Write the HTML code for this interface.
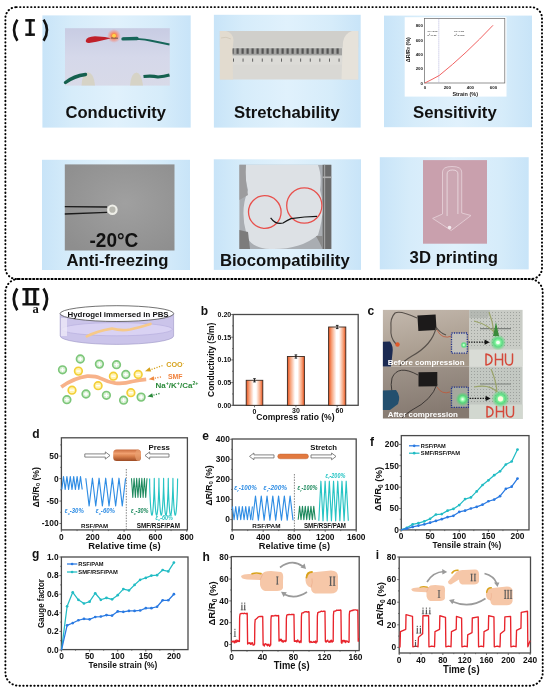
<!DOCTYPE html><html><head><meta charset="utf-8"><style>html,body{margin:0;padding:0;background:#fff;width:550px;height:692px;overflow:hidden}svg{display:block;font-family:"Liberation Sans",sans-serif;will-change:transform}</style></head><body>
<svg width="550" height="692" viewBox="0 0 550 692">
<defs>
<linearGradient id="pb" x1="0" x2="1" y1="0" y2="0">
 <stop offset="0" stop-color="#c8e4f8"/><stop offset="0.2" stop-color="#d6ecfa"/><stop offset="0.5" stop-color="#e0f1fc"/><stop offset="0.8" stop-color="#d6ecfa"/><stop offset="1" stop-color="#c8e4f8"/>
</linearGradient>
<linearGradient id="bar" x1="0" x2="1" y1="0" y2="0">
 <stop offset="0" stop-color="#e8501c"/><stop offset="0.18" stop-color="#f7a27a"/><stop offset="0.45" stop-color="#ffffff"/>
 <stop offset="0.6" stop-color="#ffffff"/><stop offset="0.85" stop-color="#f7a27a"/><stop offset="1" stop-color="#e8501c"/>
</linearGradient>
<linearGradient id="cyl" x1="0" x2="0" y1="0" y2="1">
 <stop offset="0" stop-color="#c86a3c"/><stop offset="0.35" stop-color="#f0a070"/><stop offset="0.6" stop-color="#d8804c"/><stop offset="1" stop-color="#9c4a24"/>
</linearGradient>
<radialGradient id="glowR" cx="50%" cy="50%" r="50%">
 <stop offset="0" stop-color="#fff0a0"/><stop offset="0.3" stop-color="#ff8040"/><stop offset="1" stop-color="#ff8080" stop-opacity="0"/>
</radialGradient>
<radialGradient id="glowG" cx="50%" cy="50%" r="50%">
 <stop offset="0" stop-color="#ffffff"/><stop offset="0.25" stop-color="#9dffb0"/><stop offset="0.55" stop-color="#3ee070" stop-opacity="0.75"/><stop offset="1" stop-color="#40e060" stop-opacity="0"/>
</radialGradient>
<radialGradient id="grayph" cx="55%" cy="45%" r="70%">
 <stop offset="0" stop-color="#a0a0a0"/><stop offset="1" stop-color="#8e8e8e"/>
</radialGradient>
</defs>
<rect x="5.4" y="7.1" width="536.6" height="271.9" rx="11" fill="none" stroke="#000" stroke-width="1.95" stroke-linecap="round" stroke-dasharray="0.4 3.27"/>
<rect x="5.4" y="279" width="537.3" height="406.7" rx="13" fill="none" stroke="#000" stroke-width="1.95" stroke-linecap="round" stroke-dasharray="0.4 3.27"/>
<rect x="42.4" y="15.4" width="148.3" height="112.2" fill="url(#pb)"/>
<rect x="213.9" y="14.8" width="146.8" height="112.8" fill="url(#pb)"/>
<rect x="384.0" y="15.6" width="148.0" height="111.6" fill="url(#pb)"/>
<rect x="42.0" y="159.8" width="148.0" height="110.2" fill="url(#pb)"/>
<rect x="213.8" y="159.3" width="147.2" height="110.6" fill="url(#pb)"/>
<rect x="379.8" y="157.2" width="148.9" height="112.2" fill="url(#pb)"/>
<g>
<linearGradient id="ph1" x1="0" x2="0" y1="0" y2="1"><stop offset="0" stop-color="#c8cce3"/><stop offset="0.5" stop-color="#d5d8ea"/><stop offset="1" stop-color="#d8dae8"/></linearGradient>
<rect x="65.0" y="28.2" width="104.8" height="57.4" fill="url(#ph1)"/>
<circle cx="114" cy="36" r="7" fill="url(#glowR)"/>
<path d="M85.8,40.6 Q86.6,36.6 95,36.3 L105,36.9 L111,38.2 L105,39.8 Q96,42.2 89,42.9 Q85.4,43 85.8,40.6 Z" fill="#c0202a"/>
<path d="M111,38 L118,38.2" stroke="#444" stroke-width="0.8"/>
<path d="M123,38.7 Q140,38.5 150,40.5 T169.5,44.5" stroke="#17665a" stroke-width="1.8" fill="none"/>
<path d="M123,38.9 L137,38.5" stroke="#17665a" stroke-width="3.4" fill="none" stroke-linecap="round"/>
<circle cx="114" cy="35.6" r="1.9" fill="#ffd24a"/>
<path d="M81.5,85.6 Q82,73 88,72.2 Q94,73 95,85.6 Z" fill="#d6d3c6"/>
<path d="M130,85.6 Q131,73 136.5,72.5 Q141.5,73 143,85.6 Z" fill="#d6d3c6"/>
<path d="M65.5,82.5 Q74,76 85.5,74.5" stroke="#14604e" stroke-width="3.4" fill="none" stroke-linecap="round"/>
<path d="M143.5,76.5 Q152,75.5 158,77 Q164,76.5 169.5,75" stroke="#14604e" stroke-width="3.2" fill="none"/>
</g>
<g>
<rect x="219.9" y="31" width="138.3" height="48.5" fill="#d9d8d4"/>
<rect x="219.9" y="31" width="138.3" height="16.5" fill="#d0cfcb"/>
<rect x="230" y="48.2" width="112" height="7.4" fill="#a4a4a2"/>
<rect x="231.5" y="48.4" width="2.2" height="5.4" fill="#555"/>
<rect x="236.5" y="48.4" width="2.2" height="5.4" fill="#555"/>
<rect x="241.5" y="48.4" width="2.2" height="5.4" fill="#555"/>
<rect x="246.5" y="48.4" width="2.2" height="5.4" fill="#555"/>
<rect x="251.5" y="48.4" width="2.2" height="5.4" fill="#555"/>
<rect x="256.5" y="48.4" width="2.2" height="5.4" fill="#555"/>
<rect x="261.5" y="48.4" width="2.2" height="5.4" fill="#555"/>
<rect x="266.5" y="48.4" width="2.2" height="5.4" fill="#555"/>
<rect x="271.5" y="48.4" width="2.2" height="5.4" fill="#555"/>
<rect x="276.5" y="48.4" width="2.2" height="5.4" fill="#555"/>
<rect x="281.5" y="48.4" width="2.2" height="5.4" fill="#555"/>
<rect x="286.5" y="48.4" width="2.2" height="5.4" fill="#555"/>
<rect x="291.5" y="48.4" width="2.2" height="5.4" fill="#555"/>
<rect x="296.5" y="48.4" width="2.2" height="5.4" fill="#555"/>
<rect x="301.5" y="48.4" width="2.2" height="5.4" fill="#555"/>
<rect x="306.5" y="48.4" width="2.2" height="5.4" fill="#555"/>
<rect x="311.5" y="48.4" width="2.2" height="5.4" fill="#555"/>
<rect x="316.5" y="48.4" width="2.2" height="5.4" fill="#555"/>
<rect x="321.5" y="48.4" width="2.2" height="5.4" fill="#555"/>
<rect x="326.5" y="48.4" width="2.2" height="5.4" fill="#555"/>
<rect x="331.5" y="48.4" width="2.2" height="5.4" fill="#555"/>
<rect x="336.5" y="48.4" width="2.2" height="5.4" fill="#555"/>
<rect x="230" y="55.6" width="112" height="9" fill="#dcdbd7"/>
<rect x="233.0" y="58.5" width="0.9" height="3.2" fill="#555"/>
<rect x="242.6" y="58.5" width="0.9" height="3.2" fill="#555"/>
<rect x="252.2" y="58.5" width="0.9" height="3.2" fill="#555"/>
<rect x="261.8" y="58.5" width="0.9" height="3.2" fill="#555"/>
<rect x="271.4" y="58.5" width="0.9" height="3.2" fill="#555"/>
<rect x="281.0" y="58.5" width="0.9" height="3.2" fill="#555"/>
<rect x="290.6" y="58.5" width="0.9" height="3.2" fill="#555"/>
<rect x="300.2" y="58.5" width="0.9" height="3.2" fill="#555"/>
<rect x="309.8" y="58.5" width="0.9" height="3.2" fill="#555"/>
<rect x="319.4" y="58.5" width="0.9" height="3.2" fill="#555"/>
<rect x="329.0" y="58.5" width="0.9" height="3.2" fill="#555"/>
<rect x="338.6" y="58.5" width="0.9" height="3.2" fill="#555"/>
<path d="M219.9,31 L226,31 Q233,33 233.5,40 L232.5,50 L233,79.5 L219.9,79.5 Z" fill="#e2dbcf"/>
<path d="M221,38 Q226,36 231,39" stroke="#cfc6b8" stroke-width="0.8" fill="none"/>
<path d="M358.2,31 L352,31 Q344,34 343,42 L342.5,52 L341.5,79.5 L358.2,79.5 Z" fill="#e6e2da"/>
</g>
<g>
<rect x="404.7" y="17.2" width="101.8" height="79.4" fill="#ffffff"/>
<rect x="424.6" y="18.4" width="80.2" height="64.6" fill="none" stroke="#666" stroke-width="0.7"/>
<line x1="438.8" y1="18.6" x2="438.8" y2="82.8" stroke="#8888cc" stroke-width="0.6" stroke-dasharray="1 1"/>
<path d="M424.8,83 Q432,79.5 439.2,75.5 Q466,54 493,25.3" stroke="#ee5050" stroke-width="0.9" fill="none"/>
<text x="423.0" y="27.2" font-size="4.4" fill="#222" font-weight="bold" text-anchor="end">800</text>
<text x="423.0" y="41.5" font-size="4.4" fill="#222" font-weight="bold" text-anchor="end">600</text>
<text x="423.0" y="55.5" font-size="4.4" fill="#222" font-weight="bold" text-anchor="end">400</text>
<text x="423.0" y="70.0" font-size="4.4" fill="#222" font-weight="bold" text-anchor="end">200</text>
<text x="423.0" y="84.5" font-size="4.4" fill="#222" font-weight="bold" text-anchor="end">0</text>
<text x="425.0" y="89.0" font-size="4.4" fill="#222" font-weight="bold" text-anchor="middle">0</text>
<text x="447.3" y="89.0" font-size="4.4" fill="#222" font-weight="bold" text-anchor="middle">200</text>
<text x="470.4" y="89.0" font-size="4.4" fill="#222" font-weight="bold" text-anchor="middle">400</text>
<text x="493.5" y="89.0" font-size="4.4" fill="#222" font-weight="bold" text-anchor="middle">600</text>
<text x="452.4" y="96.0" font-size="5.8" fill="#222" font-weight="bold" textLength="25.6" lengthAdjust="spacingAndGlyphs">Strain (%)</text>
<text transform="translate(407.6,49.7) rotate(-90)" x="0" y="0" font-size="5.4" font-weight="bold" fill="#222" text-anchor="middle" dominant-baseline="central">&#916;R/R<tspan font-size="3.6" dy="1">0</tspan><tspan dy="-1"> (%)</tspan></text>
<text x="427.5" y="32.0" font-size="2.5" fill="#444" font-weight="bold">GF=3.93</text>
<text x="427.5" y="35.5" font-size="2.5" fill="#444" font-weight="bold">R²=0.99</text>
<text x="454.0" y="32.0" font-size="2.5" fill="#444" font-weight="bold">GF=7.32</text>
<text x="454.0" y="35.5" font-size="2.5" fill="#444" font-weight="bold">R²=0.993</text>
</g>
<g>
<rect x="64.8" y="164.4" width="109.7" height="86.1" fill="url(#grayph)"/>
<path d="M64.8,206.6 L107,207" stroke="#1a1a1a" stroke-width="1.3" fill="none"/>
<path d="M64.8,214 L107,212.4" stroke="#1a1a1a" stroke-width="1.3" fill="none"/>
<circle cx="112.4" cy="209.7" r="4.2" fill="#b8b8b0" stroke="#eeeee8" stroke-width="2.2"/>
</g>
<text x="89.5" y="247.0" font-size="19.8" fill="#111" font-weight="bold" textLength="48.8" lengthAdjust="spacingAndGlyphs">-20°C</text>
<g>
<rect x="239.4" y="164.8" width="91.9" height="84.2" fill="#a9adb2"/>
<rect x="322.6" y="164.8" width="8.7" height="84.2" fill="#6a6a6a"/>
<rect x="324" y="164.8" width="1.2" height="84.2" fill="#a0a0a0"/>
<path d="M245,165 L318,165 Q322,175 320,190 Q326,210 318,235 Q300,250 270,249 Q248,248 246,232 Q240,210 248,190 Q244,175 245,165 Z" fill="#dde1e5"/>
<path d="M239.4,230 L248,232 L250,249 L239.4,249 Z" fill="#7c7c7c"/>
<path d="M239.4,164.8 L246,164.8 Q245,180 248,195 L239.4,200 Z" fill="#9c9c9e"/>
<path d="M316,236 Q320,243 322.6,249 L322.6,236 Z" fill="#8a8a8a"/>
<rect x="322.6" y="176.5" width="8.7" height="1.6" fill="#b0b0b0"/>
<circle cx="264.8" cy="212" r="16.3" fill="none" stroke="#e8504c" stroke-width="1.3"/>
<circle cx="304.3" cy="205.5" r="17.6" fill="none" stroke="#e8504c" stroke-width="1.3"/>
<path d="M270.6,217.8 Q276,225 283,223 Q288,220 291,218.6 Q305,216.4 317,216.3" stroke="#151515" stroke-width="1.2" fill="none"/>
</g>
<g>
<rect x="423" y="160.1" width="64" height="83.6" fill="#c9a0ad"/>
<path d="M442.5,214 L442.5,172 Q442.5,166.5 452,166.5 Q461.7,166.5 461.7,172 L461.7,213 L471,215.5 L451.2,230.5 L432.6,218.4 Z" fill="#cca7b3" stroke="#e4ced6" stroke-width="0.9"/>
<path d="M447.1,216 L447.1,174 Q447.1,170 452.5,170 Q457.9,170 457.9,174 L457.9,214" fill="none" stroke="#eee0e5" stroke-width="0.8"/>
<circle cx="449.5" cy="227.5" r="1.8" fill="#f4eaee"/>
</g>
<g stroke="#111" fill="none" stroke-width="2.6"><path d="M17.4,19.6 Q10.6,30.2 17.4,40.8"/><path d="M43.6,19.6 Q50.4,30.2 43.6,40.8"/></g>
<g fill="#111"><rect x="25.3" y="19.1" width="9.6" height="2.5"/><rect x="28.75" y="19.1" width="2.7" height="16.8"/><rect x="25.3" y="33.4" width="9.6" height="2.5"/></g>
<text x="65.5" y="118.0" font-size="16.7" fill="#111" font-weight="bold" textLength="100.5" lengthAdjust="spacingAndGlyphs">Conductivity</text>
<text x="234.0" y="118.0" font-size="16.7" fill="#111" font-weight="bold" textLength="105.7" lengthAdjust="spacingAndGlyphs">Stretchability</text>
<text x="413.0" y="117.8" font-size="16.7" fill="#111" font-weight="bold" textLength="83.7" lengthAdjust="spacingAndGlyphs">Sensitivity</text>
<text x="66.5" y="266.0" font-size="16.7" fill="#111" font-weight="bold" textLength="102.0" lengthAdjust="spacingAndGlyphs">Anti-freezing</text>
<text x="219.9" y="265.6" font-size="16.7" fill="#111" font-weight="bold" textLength="129.8" lengthAdjust="spacingAndGlyphs">Biocompatibility</text>
<text x="409.6" y="262.9" font-size="16.7" fill="#111" font-weight="bold" textLength="88.3" lengthAdjust="spacingAndGlyphs">3D printing</text>
<g stroke="#111" fill="none" stroke-width="2.7"><path d="M17.3,288.4 Q10.2,299.3 17.3,310.2"/><path d="M43.5,288.4 Q50.6,299.3 43.5,310.2"/></g>
<g fill="#111"><rect x="22.4" y="288.0" width="16.9" height="2.5"/><rect x="25.4" y="288" width="3.1" height="17"/><rect x="33.2" y="288" width="3.1" height="17"/><rect x="22.4" y="303.1" width="17.0" height="2.4"/></g>
<text x="32.6" y="313.3" font-size="12.5" fill="#111" font-weight="bold" font-family="Liberation Serif, serif">a</text>
<g>
<path d="M60.2,313.6 L60.2,336 A56.7,8.4 0 0 0 173.6,336 L173.6,313.6 Z" fill="#cbc4ea"/>
<ellipse cx="116.9" cy="329.2" rx="55.5" ry="6.6" fill="#d9d2f3" stroke="#b3abdb" stroke-width="0.6"/>
<path d="M60.2,313.6 L60.2,336 A56.7,8.4 0 0 0 173.6,336 L173.6,313.6" fill="none" stroke="#9a93c4" stroke-width="0.6"/>
<rect x="61" y="318" width="6" height="18" fill="#ece9f8" opacity="0.8"/>
<path d="M86.8,336.4 Q97,331 111.8,328.6 Q121,331 130,329.5 Q141,327 150.5,323.9" fill="none" stroke="#f6c98a" stroke-width="2.6" stroke-linecap="round"/>
<ellipse cx="116.9" cy="313.6" rx="56.8" ry="7.9" fill="#ffffff" fill-opacity="0.92" stroke="#444" stroke-width="0.75"/>
</g>
<text x="67.5" y="317.2" font-size="7.9" fill="#111" font-weight="bold" textLength="101.1" lengthAdjust="spacingAndGlyphs">Hydrogel immersed in PBS</text>
<path d="M61.2,387 Q74,378 87.3,376.2 Q96,376 100,378.1 Q108,382 115.3,383.2 Q124,384 132,381.5 Q140,380 146.2,379.4" fill="none" stroke="#f7b28a" stroke-width="3.8"/>
<circle cx="80.3" cy="359" r="3.85" fill="#d4eed0" stroke="#7cc679" stroke-width="1.6"/>
<path d="M78.2,359 h4.2 M80.3,356.9 v4.2" stroke="#fff" stroke-width="1.3"/>
<circle cx="99.4" cy="364.1" r="3.85" fill="#d4eed0" stroke="#7cc679" stroke-width="1.6"/>
<path d="M97.30000000000001,364.1 h4.2 M99.4,362.0 v4.2" stroke="#fff" stroke-width="1.3"/>
<circle cx="116.5" cy="364.7" r="3.85" fill="#d4eed0" stroke="#7cc679" stroke-width="1.6"/>
<path d="M114.4,364.7 h4.2 M116.5,362.59999999999997 v4.2" stroke="#fff" stroke-width="1.3"/>
<circle cx="62.5" cy="369.8" r="3.85" fill="#d4eed0" stroke="#7cc679" stroke-width="1.6"/>
<path d="M60.4,369.8 h4.2 M62.5,367.7 v4.2" stroke="#fff" stroke-width="1.3"/>
<circle cx="125.8" cy="374.5" r="3.85" fill="#d4eed0" stroke="#7cc679" stroke-width="1.6"/>
<path d="M123.7,374.5 h4.2 M125.8,372.4 v4.2" stroke="#fff" stroke-width="1.3"/>
<circle cx="66.9" cy="399.7" r="3.85" fill="#d4eed0" stroke="#7cc679" stroke-width="1.6"/>
<path d="M64.80000000000001,399.7 h4.2 M66.9,397.59999999999997 v4.2" stroke="#fff" stroke-width="1.3"/>
<circle cx="86" cy="394" r="3.85" fill="#d4eed0" stroke="#7cc679" stroke-width="1.6"/>
<path d="M83.9,394 h4.2 M86,391.9 v4.2" stroke="#fff" stroke-width="1.3"/>
<circle cx="106.4" cy="395.3" r="3.85" fill="#d4eed0" stroke="#7cc679" stroke-width="1.6"/>
<path d="M104.30000000000001,395.3 h4.2 M106.4,393.2 v4.2" stroke="#fff" stroke-width="1.3"/>
<circle cx="123.6" cy="400.2" r="3.85" fill="#d4eed0" stroke="#7cc679" stroke-width="1.6"/>
<path d="M121.5,400.2 h4.2 M123.6,398.09999999999997 v4.2" stroke="#fff" stroke-width="1.3"/>
<circle cx="141.1" cy="397.1" r="3.85" fill="#d4eed0" stroke="#7cc679" stroke-width="1.6"/>
<path d="M139.0,397.1 h4.2 M141.1,395.0 v4.2" stroke="#fff" stroke-width="1.3"/>
<circle cx="78.4" cy="371.1" r="3.85" fill="#fff3b0" stroke="#f3cf36" stroke-width="1.6"/>
<path d="M76.4,371.1 h4" stroke="#fff" stroke-width="1.3"/>
<circle cx="113.4" cy="376.2" r="3.85" fill="#fff3b0" stroke="#f3cf36" stroke-width="1.6"/>
<path d="M111.4,376.2 h4" stroke="#fff" stroke-width="1.3"/>
<circle cx="98.1" cy="385.7" r="3.85" fill="#fff3b0" stroke="#f3cf36" stroke-width="1.6"/>
<path d="M96.1,385.7 h4" stroke="#fff" stroke-width="1.3"/>
<circle cx="72" cy="390.2" r="3.85" fill="#fff3b0" stroke="#f3cf36" stroke-width="1.6"/>
<path d="M70,390.2 h4" stroke="#fff" stroke-width="1.3"/>
<circle cx="138.2" cy="374.5" r="3.85" fill="#fff3b0" stroke="#f3cf36" stroke-width="1.6"/>
<path d="M136.2,374.5 h4" stroke="#fff" stroke-width="1.3"/>
<circle cx="130.9" cy="392.7" r="3.85" fill="#fff3b0" stroke="#f3cf36" stroke-width="1.6"/>
<path d="M128.9,392.7 h4" stroke="#fff" stroke-width="1.3"/>
<path d="M162.5,365.6 L151.5,369.4" stroke="#d6a21c" stroke-width="1.3" stroke-dasharray="1.2 1.4" fill="none"/>
<path d="M145,371.3 L149.6,367.2 L151.2,371.4 Z" fill="#d6a21c"/>
<path d="M161,377 L154.8,378.2" stroke="#f08a40" stroke-width="1.3" stroke-dasharray="1.2 1.4" fill="none"/>
<path d="M148.6,379.2 L153.8,376.2 L154.4,380.6 Z" fill="#f08a40"/>
<path d="M159.5,393.5 L153.5,395.2" stroke="#2b8a3a" stroke-width="1.3" stroke-dasharray="1.2 1.4" fill="none"/>
<path d="M147.4,396.6 L152.2,393.3 L153.2,397.6 Z" fill="#2b8a3a"/>
<text x="166.3" y="367.4" font-size="7.2" fill="#d6a21c" font-weight="bold">COO<tspan font-size="4.2" dy="-3">-</tspan></text>
<text x="168.0" y="379.0" font-size="7.2" fill="#f0813c" font-weight="bold" textLength="14.5" lengthAdjust="spacingAndGlyphs">SMF</text>
<text x="155.6" y="388.4" font-size="7.3" fill="#2b8a3a" font-weight="bold" textLength="42.8" lengthAdjust="spacingAndGlyphs">Na<tspan font-size="4.8" dy="-3">+</tspan><tspan dy="3">/K</tspan><tspan font-size="4.8" dy="-3">+</tspan><tspan dy="3">/Ca</tspan><tspan font-size="4.8" dy="-3">2+</tspan></text>
<g>
<linearGradient id="cph1" x1="0" y1="0" x2="0.3" y2="1"><stop offset="0" stop-color="#c4b9ae"/><stop offset="1" stop-color="#a49789"/></linearGradient>
<linearGradient id="cph2" x1="0" y1="0" x2="0.3" y2="1"><stop offset="0" stop-color="#a0958b"/><stop offset="1" stop-color="#857970"/></linearGradient>
<rect x="382.9" y="309.9" width="86.6" height="56.6" fill="url(#cph1)"/>
<rect x="382.9" y="366.5" width="86.6" height="52" fill="url(#cph2)"/>
<rect x="469.4" y="309.9" width="53.2" height="56.6" fill="#c9ccc6"/>
<rect x="469.4" y="366.5" width="53.2" height="52.5" fill="#c3c8c2"/>
<rect x="469.4" y="349.5" width="53.2" height="17" fill="#d9dcd6"/>
<rect x="469.4" y="404.5" width="53.2" height="14.5" fill="#d2d8d0"/>
<line x1="471" y1="312.5" x2="521" y2="312.5" stroke="#8c908c" stroke-width="0.7" stroke-dasharray="1 2"/>
<line x1="471" y1="315.5" x2="521" y2="315.5" stroke="#8c908c" stroke-width="0.7" stroke-dasharray="1 2"/>
<line x1="471" y1="318.5" x2="521" y2="318.5" stroke="#8c908c" stroke-width="0.7" stroke-dasharray="1 2"/>
<line x1="471" y1="321.5" x2="521" y2="321.5" stroke="#8c908c" stroke-width="0.7" stroke-dasharray="1 2"/>
<line x1="471" y1="324.5" x2="521" y2="324.5" stroke="#8c908c" stroke-width="0.7" stroke-dasharray="1 2"/>
<line x1="471" y1="327.5" x2="521" y2="327.5" stroke="#8c908c" stroke-width="0.7" stroke-dasharray="1 2"/>
<line x1="471" y1="330.5" x2="521" y2="330.5" stroke="#8c908c" stroke-width="0.7" stroke-dasharray="1 2"/>
<line x1="471" y1="333.5" x2="521" y2="333.5" stroke="#8c908c" stroke-width="0.7" stroke-dasharray="1 2"/>
<line x1="471" y1="336.5" x2="521" y2="336.5" stroke="#8c908c" stroke-width="0.7" stroke-dasharray="1 2"/>
<line x1="471" y1="339.5" x2="521" y2="339.5" stroke="#8c908c" stroke-width="0.7" stroke-dasharray="1 2"/>
<line x1="471" y1="342.5" x2="521" y2="342.5" stroke="#8c908c" stroke-width="0.7" stroke-dasharray="1 2"/>
<line x1="471" y1="345.5" x2="521" y2="345.5" stroke="#8c908c" stroke-width="0.7" stroke-dasharray="1 2"/>
<line x1="471" y1="368.5" x2="521" y2="368.5" stroke="#8c908c" stroke-width="0.7" stroke-dasharray="1 2"/>
<line x1="471" y1="371.5" x2="521" y2="371.5" stroke="#8c908c" stroke-width="0.7" stroke-dasharray="1 2"/>
<line x1="471" y1="374.5" x2="521" y2="374.5" stroke="#8c908c" stroke-width="0.7" stroke-dasharray="1 2"/>
<line x1="471" y1="377.5" x2="521" y2="377.5" stroke="#8c908c" stroke-width="0.7" stroke-dasharray="1 2"/>
<line x1="471" y1="380.5" x2="521" y2="380.5" stroke="#8c908c" stroke-width="0.7" stroke-dasharray="1 2"/>
<line x1="471" y1="383.5" x2="521" y2="383.5" stroke="#8c908c" stroke-width="0.7" stroke-dasharray="1 2"/>
<line x1="471" y1="386.5" x2="521" y2="386.5" stroke="#8c908c" stroke-width="0.7" stroke-dasharray="1 2"/>
<line x1="471" y1="389.5" x2="521" y2="389.5" stroke="#8c908c" stroke-width="0.7" stroke-dasharray="1 2"/>
<line x1="471" y1="392.5" x2="521" y2="392.5" stroke="#8c908c" stroke-width="0.7" stroke-dasharray="1 2"/>
<line x1="471" y1="395.5" x2="521" y2="395.5" stroke="#8c908c" stroke-width="0.7" stroke-dasharray="1 2"/>
<line x1="471" y1="398.5" x2="521" y2="398.5" stroke="#8c908c" stroke-width="0.7" stroke-dasharray="1 2"/>
<line x1="471" y1="401.5" x2="521" y2="401.5" stroke="#8c908c" stroke-width="0.7" stroke-dasharray="1 2"/>
<path d="M480,328.6 L511,328.6 M480,384 L511,384" stroke="#7c807c" stroke-width="1.2"/>
<path d="M469.4,310 L490,310 L488,318 L469.4,318 Z" fill="#a9aca6" opacity="0.6"/>
<path d="M417.4,315.6 L435.6,314.6 L436.6,329.9 L418.4,330.9 Z" fill="#1c1a1a"/>
<path d="M418.5,372.3 L437.3,372 L437.3,386.2 L418.5,386.5 Z" fill="#1c1a1a"/>
<path d="M417,318 Q400,310 395,313 Q390,318 391,328 Q390,338 396,344 M436,327 Q440,333 446,335 M436,328 Q432,345 412,356 Q402,362 400,366" fill="none" stroke="#57504a" stroke-width="1.1"/>
<path d="M418,375 Q398,364 392,378 Q389,392 397,398 M437,384 Q432,400 412,410 Q404,415 402,418" fill="none" stroke="#2a2624" stroke-width="0.8"/>
<path d="M437,330 Q442,340 452,336 M437,387 Q442,395 450,392" fill="none" stroke="#c05838" stroke-width="0.8"/>
<path d="M382.9,341.8 L390,341.5 Q393.5,346 392.5,353 L391,366.4 L382.9,366.4 Z" fill="#1b2a52"/>
<path d="M382.9,390.5 L396,390 Q401,396 398,404 L390,410 L382.9,410 Z" fill="#234f6e"/>
<circle cx="397.5" cy="344.5" r="2.2" fill="#e05a2a"/>
<rect x="451.5" y="333" width="15.8" height="20.2" fill="#c4c3bc" stroke="#1d2f8c" stroke-width="1.3" stroke-dasharray="1.2 1.2"/>
<rect x="451.5" y="387.2" width="16.8" height="20.2" fill="#a5a89e" stroke="#1d2f8c" stroke-width="1.3" stroke-dasharray="1.2 1.2"/>
<circle cx="463.8" cy="345" r="3.5" fill="url(#glowG)"/>
<circle cx="462.6" cy="399.2" r="7" fill="url(#glowG)"/>
<circle cx="498" cy="342.5" r="8" fill="url(#glowG)"/>
<circle cx="500.5" cy="398.8" r="9" fill="url(#glowG)"/>
<circle cx="500.5" cy="398.8" r="2.6" fill="#fffbe0"/>
<circle cx="498" cy="342.5" r="1.8" fill="#f4fff4"/>
<path d="M468.6,342.2 L485,342.2" stroke="#111" stroke-width="1.3" stroke-dasharray="1.3 1.3"/>
<path d="M489.6,342.2 L484.6,339.6 L484.6,344.8 Z" fill="#111"/>
<path d="M469.6,398.4 L486,398.4" stroke="#111" stroke-width="1.3" stroke-dasharray="1.3 1.3"/>
<path d="M490.6,398.4 L485.6,395.8 L485.6,401 Z" fill="#111"/>
<path d="M474,321 Q490,325 496,335 M489,312 Q493,322 494,333" fill="none" stroke="#9aa46a" stroke-width="1.2"/>
<path d="M493,336 L496,322 L499,336 Z" fill="#3a8a3a"/>
<path d="M474,387 Q490,384 497,392 M491,369 Q496,380 497,392" fill="none" stroke="#9aa46a" stroke-width="1.2"/>
<g fill="none" stroke="#d4483a" stroke-width="1.5" stroke-linecap="round"><path d="M486,354 L486,365 M486,354 Q492,355 492,359.5 Q492,364 486,365"/><path d="M495.5,354 L495.5,365 M502.5,354 L502.5,365 M495.5,359.5 L502.5,359.5"/><path d="M505.5,354 L505.5,361 Q506,365 509,365 Q512.5,365 512.5,361 L512.5,354"/></g>
<g fill="none" stroke="#d4483a" stroke-width="1.5" stroke-linecap="round"><path d="M487,406.5 L487,417 M487,406.5 Q493,407.5 493,412 Q493,416.5 487,417"/><path d="M496.5,406.5 L496.5,417 M503.5,406.5 L503.5,417 M496.5,411.5 L503.5,411.5"/><path d="M506.5,406.5 L506.5,413 Q507,417 510,417 Q513.5,417 513.5,413 L513.5,406.5"/></g>
</g>
<text x="387.7" y="365.3" font-size="7.95" fill="#ffffff" font-weight="bold" textLength="76.9" lengthAdjust="spacingAndGlyphs">Before compression</text>
<text x="387.7" y="416.8" font-size="7.95" fill="#ffffff" font-weight="bold" textLength="70.3" lengthAdjust="spacingAndGlyphs">After compression</text>
<text x="200.7" y="315.2" font-size="12" fill="#111" font-weight="bold">b</text>
<text x="367.4" y="315.2" font-size="12" fill="#111" font-weight="bold">c</text>
<rect x="233.2" y="314.5" width="125.00" height="90.80" fill="none" stroke="#4a4a4a" stroke-width="1.3"/>
<line x1="231.2" y1="314.50" x2="233.2" y2="314.50" stroke="#4a4a4a" stroke-width="0.8"/>
<line x1="231.2" y1="337.20" x2="233.2" y2="337.20" stroke="#4a4a4a" stroke-width="0.8"/>
<line x1="231.2" y1="359.90" x2="233.2" y2="359.90" stroke="#4a4a4a" stroke-width="0.8"/>
<line x1="231.2" y1="382.60" x2="233.2" y2="382.60" stroke="#4a4a4a" stroke-width="0.8"/>
<line x1="231.2" y1="405.30" x2="233.2" y2="405.30" stroke="#4a4a4a" stroke-width="0.8"/>
<line x1="232.0" y1="325.85" x2="233.2" y2="325.85" stroke="#4a4a4a" stroke-width="0.7"/>
<line x1="232.0" y1="348.55" x2="233.2" y2="348.55" stroke="#4a4a4a" stroke-width="0.7"/>
<line x1="232.0" y1="371.25" x2="233.2" y2="371.25" stroke="#4a4a4a" stroke-width="0.7"/>
<line x1="232.0" y1="393.95" x2="233.2" y2="393.95" stroke="#4a4a4a" stroke-width="0.7"/>
<text x="231.2" y="317.0" font-size="7.0" fill="#111" font-weight="bold" text-anchor="end">0.20</text>
<text x="231.2" y="339.7" font-size="7.0" fill="#111" font-weight="bold" text-anchor="end">0.15</text>
<text x="231.2" y="362.4" font-size="7.0" fill="#111" font-weight="bold" text-anchor="end">0.10</text>
<text x="231.2" y="385.1" font-size="7.0" fill="#111" font-weight="bold" text-anchor="end">0.05</text>
<text x="231.2" y="407.8" font-size="7.0" fill="#111" font-weight="bold" text-anchor="end">0.00</text>
<rect x="246.2" y="380.3" width="16.6" height="25.0" fill="url(#bar)" stroke="#3a2a22" stroke-width="0.9"/>
<path d="M254.5,378.7 v3.2 M253.2,378.7 h2.6 M253.2,381.90000000000003 h2.6" stroke="#111" stroke-width="0.9"/>
<rect x="287.4" y="356.5" width="17.0" height="48.8" fill="url(#bar)" stroke="#3a2a22" stroke-width="0.9"/>
<path d="M295.9,354.9 v3.2 M294.59999999999997,354.9 h2.6 M294.59999999999997,358.1 h2.6" stroke="#111" stroke-width="0.9"/>
<rect x="328.6" y="327.0" width="17.2" height="78.3" fill="url(#bar)" stroke="#3a2a22" stroke-width="0.9"/>
<path d="M337.20000000000005,325.4 v3.2 M335.90000000000003,325.4 h2.6 M335.90000000000003,328.6 h2.6" stroke="#111" stroke-width="0.9"/>
<line x1="254.50" y1="405.3" x2="254.50" y2="407.3" stroke="#4a4a4a" stroke-width="0.8"/>
<line x1="295.90" y1="405.3" x2="295.90" y2="407.3" stroke="#4a4a4a" stroke-width="0.8"/>
<line x1="337.20" y1="405.3" x2="337.20" y2="407.3" stroke="#4a4a4a" stroke-width="0.8"/>
<text x="254.5" y="414.2" font-size="7.0" fill="#111" font-weight="bold" text-anchor="middle">0</text>
<text x="295.9" y="413.0" font-size="7.0" fill="#111" font-weight="bold" text-anchor="middle">30</text>
<text x="339.5" y="412.5" font-size="7.0" fill="#111" font-weight="bold" text-anchor="middle">60</text>
<text x="256.3" y="420.2" font-size="8.6" fill="#111" font-weight="bold" textLength="78.2" lengthAdjust="spacingAndGlyphs">Compress ratio (%)</text>
<text transform="translate(210.8,359.8) rotate(-90)" x="0" y="0" font-size="8.5" font-weight="bold" fill="#111" text-anchor="middle" dominant-baseline="central" textLength="74.3" lengthAdjust="spacingAndGlyphs">Conductivity (S/m)</text>
<text x="32.2" y="438.3" font-size="12" fill="#111" font-weight="bold">d</text>
<rect x="61.4" y="437.8" width="126.00" height="92.10" fill="none" stroke="#4a4a4a" stroke-width="1.3"/>
<line x1="59.4" y1="456.14" x2="61.4" y2="456.14" stroke="#4a4a4a" stroke-width="0.8"/>
<line x1="59.4" y1="478.60" x2="61.4" y2="478.60" stroke="#4a4a4a" stroke-width="0.8"/>
<line x1="59.4" y1="501.06" x2="61.4" y2="501.06" stroke="#4a4a4a" stroke-width="0.8"/>
<line x1="59.4" y1="523.53" x2="61.4" y2="523.53" stroke="#4a4a4a" stroke-width="0.8"/>
<line x1="60.199999999999996" y1="444.90" x2="61.4" y2="444.90" stroke="#4a4a4a" stroke-width="0.7"/>
<line x1="60.199999999999996" y1="467.37" x2="61.4" y2="467.37" stroke="#4a4a4a" stroke-width="0.7"/>
<line x1="60.199999999999996" y1="489.83" x2="61.4" y2="489.83" stroke="#4a4a4a" stroke-width="0.7"/>
<line x1="60.199999999999996" y1="512.30" x2="61.4" y2="512.30" stroke="#4a4a4a" stroke-width="0.7"/>
<line x1="60.199999999999996" y1="534.76" x2="61.4" y2="534.76" stroke="#4a4a4a" stroke-width="0.7"/>
<text x="58.6" y="459.0" font-size="8.4" fill="#111" font-weight="bold" text-anchor="end">50</text>
<text x="58.6" y="481.5" font-size="8.4" fill="#111" font-weight="bold" text-anchor="end">0</text>
<text x="58.6" y="504.0" font-size="8.4" fill="#111" font-weight="bold" text-anchor="end">-50</text>
<text x="58.6" y="526.4" font-size="8.4" fill="#111" font-weight="bold" text-anchor="end">-100</text>
<line x1="61.40" y1="529.9" x2="61.40" y2="531.9" stroke="#4a4a4a" stroke-width="0.8"/>
<line x1="92.74" y1="529.9" x2="92.74" y2="531.9" stroke="#4a4a4a" stroke-width="0.8"/>
<line x1="124.08" y1="529.9" x2="124.08" y2="531.9" stroke="#4a4a4a" stroke-width="0.8"/>
<line x1="155.42" y1="529.9" x2="155.42" y2="531.9" stroke="#4a4a4a" stroke-width="0.8"/>
<line x1="186.76" y1="529.9" x2="186.76" y2="531.9" stroke="#4a4a4a" stroke-width="0.8"/>
<line x1="77.07" y1="529.9" x2="77.07" y2="531.1" stroke="#4a4a4a" stroke-width="0.7"/>
<line x1="108.41" y1="529.9" x2="108.41" y2="531.1" stroke="#4a4a4a" stroke-width="0.7"/>
<line x1="139.75" y1="529.9" x2="139.75" y2="531.1" stroke="#4a4a4a" stroke-width="0.7"/>
<line x1="171.09" y1="529.9" x2="171.09" y2="531.1" stroke="#4a4a4a" stroke-width="0.7"/>
<text x="61.4" y="539.6" font-size="8.4" fill="#111" font-weight="bold" text-anchor="middle">0</text>
<text x="92.7" y="539.6" font-size="8.4" fill="#111" font-weight="bold" text-anchor="middle">200</text>
<text x="124.1" y="539.6" font-size="8.4" fill="#111" font-weight="bold" text-anchor="middle">400</text>
<text x="155.4" y="539.6" font-size="8.4" fill="#111" font-weight="bold" text-anchor="middle">600</text>
<text x="186.8" y="539.6" font-size="8.4" fill="#111" font-weight="bold" text-anchor="middle">800</text>
<text x="88.3" y="549.0" font-size="9.9" fill="#111" font-weight="bold" textLength="72.4" lengthAdjust="spacingAndGlyphs">Relative time (s)</text>
<text transform="translate(36.2,487.2) rotate(-90)" x="0" y="0" font-size="8.6" font-weight="bold" fill="#111" text-anchor="middle" dominant-baseline="central">&#916;R/R<tspan font-size="6" dy="2">0</tspan><tspan dy="-2"> (%)</tspan></text>
<polyline points="61.80,489.50 63.50,476.50 65.20,489.50 66.90,476.50 68.60,489.50 70.30,476.50 72.00,489.50 73.70,476.50 75.40,489.50 77.10,476.50 78.80,489.50 80.50,476.50 82.20,489.50" fill="none" stroke="#2f8de4" stroke-width="1.15" stroke-linejoin="round"/>
<polyline points="85.80,478.20 89.12,506.00 92.43,478.20 95.75,506.00 99.07,478.20 102.38,506.00 105.70,478.20 109.02,506.00 112.33,478.20 115.65,506.00 118.97,478.20 122.28,506.00 125.60,478.20" fill="none" stroke="#2f8de4" stroke-width="1.15" stroke-linejoin="round"/>
<polyline points="131.50,478.20 132.79,497.50 134.08,478.20 135.38,497.50 136.67,478.20 137.96,497.50 139.25,478.20 140.54,497.50 141.83,478.20 143.12,497.50 144.42,478.20 145.71,497.50 147.00,478.20" fill="none" stroke="#1e8a5e" stroke-width="1.05" stroke-linejoin="round"/>
<polyline points="149.60,478.40 149.72,486.39 149.83,490.49 149.95,493.77 150.07,496.59 150.18,499.08 150.30,501.31 150.42,503.33 150.53,505.15 150.65,506.80 150.77,508.29 150.88,509.62 151.00,510.81 151.12,511.84 151.23,512.74 151.35,513.49 151.47,514.11 151.58,514.59 151.70,514.93 151.82,515.13 151.93,515.20 152.05,515.13 152.17,514.93 152.28,514.59 152.40,514.11 152.52,513.49 152.63,512.74 152.75,511.84 152.87,510.81 152.98,509.62 153.10,508.29 153.22,506.80 153.33,505.15 153.45,503.33 153.57,501.31 153.68,499.08 153.80,496.59 153.92,493.77 154.03,490.49 154.15,486.39 154.27,478.40 154.38,486.39 154.50,490.49 154.62,493.77 154.73,496.59 154.85,499.08 154.97,501.31 155.08,503.33 155.20,505.15 155.32,506.80 155.43,508.29 155.55,509.62 155.67,510.81 155.78,511.84 155.90,512.74 156.02,513.49 156.13,514.11 156.25,514.59 156.37,514.93 156.48,515.13 156.60,515.20 156.72,515.13 156.83,514.93 156.95,514.59 157.07,514.11 157.18,513.49 157.30,512.74 157.42,511.84 157.53,510.81 157.65,509.62 157.77,508.29 157.88,506.80 158.00,505.15 158.12,503.33 158.23,501.31 158.35,499.08 158.47,496.59 158.58,493.77 158.70,490.49 158.82,486.39 158.93,478.40 159.05,486.39 159.17,490.49 159.28,493.77 159.40,496.59 159.52,499.08 159.63,501.31 159.75,503.33 159.87,505.15 159.98,506.80 160.10,508.29 160.22,509.62 160.33,510.81 160.45,511.84 160.57,512.74 160.68,513.49 160.80,514.11 160.92,514.59 161.03,514.93 161.15,515.13 161.27,515.20 161.38,515.13 161.50,514.93 161.62,514.59 161.73,514.11 161.85,513.49 161.97,512.74 162.08,511.84 162.20,510.81 162.32,509.62 162.43,508.29 162.55,506.80 162.67,505.15 162.78,503.33 162.90,501.31 163.02,499.08 163.13,496.59 163.25,493.77 163.37,490.49 163.48,486.39 163.60,478.40 163.72,486.39 163.83,490.49 163.95,493.77 164.07,496.59 164.18,499.08 164.30,501.31 164.42,503.33 164.53,505.15 164.65,506.80 164.77,508.29 164.88,509.62 165.00,510.81 165.12,511.84 165.23,512.74 165.35,513.49 165.47,514.11 165.58,514.59 165.70,514.93 165.82,515.13 165.93,515.20 166.05,515.13 166.17,514.93 166.28,514.59 166.40,514.11 166.52,513.49 166.63,512.74 166.75,511.84 166.87,510.81 166.98,509.62 167.10,508.29 167.22,506.80 167.33,505.15 167.45,503.33 167.57,501.31 167.68,499.08 167.80,496.59 167.92,493.77 168.03,490.49 168.15,486.39 168.27,478.40 168.38,486.39 168.50,490.49 168.62,493.77 168.73,496.59 168.85,499.08 168.97,501.31 169.08,503.33 169.20,505.15 169.32,506.80 169.43,508.29 169.55,509.62 169.67,510.81 169.78,511.84 169.90,512.74 170.02,513.49 170.13,514.11 170.25,514.59 170.37,514.93 170.48,515.13 170.60,515.20 170.72,515.13 170.83,514.93 170.95,514.59 171.07,514.11 171.18,513.49 171.30,512.74 171.42,511.84 171.53,510.81 171.65,509.62 171.77,508.29 171.88,506.80 172.00,505.15 172.12,503.33 172.23,501.31 172.35,499.08 172.47,496.59 172.58,493.77 172.70,490.49 172.82,486.39 172.93,478.40 173.05,486.39 173.17,490.49 173.28,493.77 173.40,496.59 173.52,499.08 173.63,501.31 173.75,503.33 173.87,505.15 173.98,506.80 174.10,508.29 174.22,509.62 174.33,510.81 174.45,511.84 174.57,512.74 174.68,513.49 174.80,514.11 174.92,514.59 175.03,514.93 175.15,515.13 175.27,515.20 175.38,515.13 175.50,514.93 175.62,514.59 175.73,514.11 175.85,513.49 175.97,512.74 176.08,511.84 176.20,510.81 176.32,509.62 176.43,508.29 176.55,506.80 176.67,505.15 176.78,503.33 176.90,501.31 177.02,499.08 177.13,496.59 177.25,493.77 177.37,490.49 177.48,486.39 177.60,478.40" fill="none" stroke="#27c4c4" stroke-width="1.15" stroke-linejoin="round"/>
<line x1="126.3" y1="469" x2="126.3" y2="529.9" stroke="#666" stroke-width="0.8" stroke-dasharray="1.5 1.2"/>
<text x="64.8" y="513.4" font-size="6.9" fill="#2f8de4" font-weight="bold" font-style="italic" textLength="19.0" lengthAdjust="spacingAndGlyphs">&#949;<tspan font-size="4.4" dy="1.2">c</tspan><tspan dy="-1.2">-30%</tspan></text>
<text x="95.8" y="513.4" font-size="6.9" fill="#2f8de4" font-weight="bold" font-style="italic" textLength="19.2" lengthAdjust="spacingAndGlyphs">&#949;<tspan font-size="4.4" dy="1.2">c</tspan><tspan dy="-1.2">-60%</tspan></text>
<text x="131.0" y="513.4" font-size="6.9" fill="#1e8a5e" font-weight="bold" font-style="italic" textLength="17.5" lengthAdjust="spacingAndGlyphs">&#949;<tspan font-size="4.4" dy="1.2">c</tspan><tspan dy="-1.2">-30%</tspan></text>
<text x="155.6" y="520.2" font-size="6.9" fill="#27c4c4" font-weight="bold" font-style="italic" textLength="17.2" lengthAdjust="spacingAndGlyphs">&#949;<tspan font-size="4.4" dy="1.2">c</tspan><tspan dy="-1.2">-60%</tspan></text>
<text x="81.0" y="528.0" font-size="6.1" fill="#111" font-weight="bold" textLength="27.0" lengthAdjust="spacingAndGlyphs">RSF/PAM</text>
<text x="136.7" y="528.4" font-size="6.35" fill="#111" font-weight="bold" textLength="43.3" lengthAdjust="spacingAndGlyphs">SMF/RSF/PAM</text>
<path d="M84.8,453.916 L105.32,453.916 L105.32,451.9 L110,455.5 L105.32,459.1 L105.32,457.084 L84.8,457.084 Z" fill="#fff" stroke="#666" stroke-width="0.8" stroke-linejoin="miter"/>
<path d="M169,453.916 L149.68,453.916 L149.68,451.9 L145,455.5 L149.68,459.1 L149.68,457.084 L169,457.084 Z" fill="#fff" stroke="#666" stroke-width="0.8" stroke-linejoin="miter"/>
<rect x="113.2" y="449.4" width="27.8" height="11.6" rx="3.5" fill="url(#cyl)"/>
<ellipse cx="138" cy="455.2" rx="3" ry="5.8" fill="#e8a070" opacity="0.7"/>
<text x="148.5" y="449.8" font-size="7.9" fill="#111" font-weight="bold" textLength="21.5" lengthAdjust="spacingAndGlyphs">Press</text>
<text x="202.2" y="440.4" font-size="12" fill="#111" font-weight="bold">e</text>
<rect x="232.2" y="439.0" width="124.00" height="90.90" fill="none" stroke="#4a4a4a" stroke-width="1.3"/>
<line x1="230.2" y1="519.60" x2="232.2" y2="519.60" stroke="#4a4a4a" stroke-width="0.8"/>
<line x1="230.2" y1="499.52" x2="232.2" y2="499.52" stroke="#4a4a4a" stroke-width="0.8"/>
<line x1="230.2" y1="479.44" x2="232.2" y2="479.44" stroke="#4a4a4a" stroke-width="0.8"/>
<line x1="230.2" y1="459.36" x2="232.2" y2="459.36" stroke="#4a4a4a" stroke-width="0.8"/>
<line x1="230.2" y1="439.28" x2="232.2" y2="439.28" stroke="#4a4a4a" stroke-width="0.8"/>
<line x1="231.0" y1="509.56" x2="232.2" y2="509.56" stroke="#4a4a4a" stroke-width="0.7"/>
<line x1="231.0" y1="489.48" x2="232.2" y2="489.48" stroke="#4a4a4a" stroke-width="0.7"/>
<line x1="231.0" y1="469.40" x2="232.2" y2="469.40" stroke="#4a4a4a" stroke-width="0.7"/>
<line x1="231.0" y1="449.32" x2="232.2" y2="449.32" stroke="#4a4a4a" stroke-width="0.7"/>
<line x1="231.0" y1="529.64" x2="232.2" y2="529.64" stroke="#4a4a4a" stroke-width="0.7"/>
<text x="229.8" y="522.3" font-size="8.4" fill="#111" font-weight="bold" text-anchor="end">0</text>
<text x="229.8" y="502.2" font-size="8.4" fill="#111" font-weight="bold" text-anchor="end">100</text>
<text x="229.8" y="482.1" font-size="8.4" fill="#111" font-weight="bold" text-anchor="end">200</text>
<text x="229.8" y="462.1" font-size="8.4" fill="#111" font-weight="bold" text-anchor="end">300</text>
<text x="229.8" y="442.0" font-size="8.4" fill="#111" font-weight="bold" text-anchor="end">400</text>
<line x1="232.20" y1="529.9" x2="232.20" y2="531.9" stroke="#4a4a4a" stroke-width="0.8"/>
<line x1="263.20" y1="529.9" x2="263.20" y2="531.9" stroke="#4a4a4a" stroke-width="0.8"/>
<line x1="294.20" y1="529.9" x2="294.20" y2="531.9" stroke="#4a4a4a" stroke-width="0.8"/>
<line x1="325.20" y1="529.9" x2="325.20" y2="531.9" stroke="#4a4a4a" stroke-width="0.8"/>
<line x1="356.20" y1="529.9" x2="356.20" y2="531.9" stroke="#4a4a4a" stroke-width="0.8"/>
<line x1="247.70" y1="529.9" x2="247.70" y2="531.1" stroke="#4a4a4a" stroke-width="0.7"/>
<line x1="278.70" y1="529.9" x2="278.70" y2="531.1" stroke="#4a4a4a" stroke-width="0.7"/>
<line x1="309.70" y1="529.9" x2="309.70" y2="531.1" stroke="#4a4a4a" stroke-width="0.7"/>
<line x1="340.70" y1="529.9" x2="340.70" y2="531.1" stroke="#4a4a4a" stroke-width="0.7"/>
<text x="232.2" y="539.6" font-size="8.4" fill="#111" font-weight="bold" text-anchor="middle">0</text>
<text x="263.2" y="539.6" font-size="8.4" fill="#111" font-weight="bold" text-anchor="middle">400</text>
<text x="294.2" y="539.6" font-size="8.4" fill="#111" font-weight="bold" text-anchor="middle">800</text>
<text x="325.2" y="539.6" font-size="8.4" fill="#111" font-weight="bold" text-anchor="middle">1200</text>
<text x="356.2" y="539.6" font-size="8.4" fill="#111" font-weight="bold" text-anchor="middle">1600</text>
<text x="258.8" y="549.0" font-size="9.9" fill="#111" font-weight="bold" textLength="71.2" lengthAdjust="spacingAndGlyphs">Relative time (s)</text>
<text transform="translate(209.4,485.4) rotate(-90)" x="0" y="0" font-size="8.6" font-weight="bold" fill="#111" text-anchor="middle" dominant-baseline="central">&#916;R/R<tspan font-size="6" dy="2">0</tspan><tspan dy="-2"> (%)</tspan></text>
<polyline points="232.40,506.50 234.07,519.80 235.73,506.50 237.40,519.80 239.07,506.50 240.73,519.80 242.40,506.50 244.07,519.80 245.73,506.50 247.40,519.80 249.07,506.50 250.73,519.80 252.40,506.50" fill="none" stroke="#2f8de4" stroke-width="1.1" stroke-linejoin="round"/>
<polyline points="252.60,520.20 255.49,496.00 258.37,520.20 261.26,496.00 264.14,520.20 267.03,496.00 269.91,520.20 272.80,496.00 275.69,520.20 278.57,496.00 281.46,520.20 284.34,496.00 287.23,520.20 290.11,496.00 293.00,520.20" fill="none" stroke="#2f8de4" stroke-width="1.15" stroke-linejoin="round"/>
<polyline points="298.20,519.80 299.62,506.30 301.03,519.80 302.45,506.30 303.87,519.80 305.28,506.30 306.70,519.80 308.12,506.30 309.53,519.80 310.95,506.30 312.37,519.80 313.78,506.30 315.20,519.80" fill="none" stroke="#1e8a5e" stroke-width="1.1" stroke-linejoin="round"/>
<polyline points="318.80,520.80 320.91,481.20 323.01,520.80 325.12,481.20 327.23,520.80 329.34,481.20 331.44,520.80 333.55,481.20 335.66,520.80 337.76,481.20 339.87,520.80 341.98,481.20 344.09,520.80 346.19,481.20 348.30,520.80" fill="none" stroke="#27c4c4" stroke-width="1.15" stroke-linejoin="round"/>
<line x1="294.4" y1="474" x2="294.4" y2="529.9" stroke="#666" stroke-width="0.8" stroke-dasharray="1.5 1.2"/>
<text x="234.2" y="490.3" font-size="6.9" fill="#2f8de4" font-weight="bold" font-style="italic" textLength="22.6" lengthAdjust="spacingAndGlyphs">&#949;<tspan font-size="4.4" dy="1.2">r</tspan><tspan dy="-1.2">-100%</tspan></text>
<text x="263.6" y="490.3" font-size="6.9" fill="#2f8de4" font-weight="bold" font-style="italic" textLength="23.5" lengthAdjust="spacingAndGlyphs">&#949;<tspan font-size="4.4" dy="1.2">r</tspan><tspan dy="-1.2">-200%</tspan></text>
<text x="297.5" y="490.3" font-size="6.9" fill="#1e8a5e" font-weight="bold" font-style="italic" textLength="20.0" lengthAdjust="spacingAndGlyphs">&#949;<tspan font-size="4.4" dy="1.2">r</tspan><tspan dy="-1.2">-100%</tspan></text>
<text x="325.5" y="477.8" font-size="6.9" fill="#27c4c4" font-weight="bold" font-style="italic" textLength="19.8" lengthAdjust="spacingAndGlyphs">&#949;<tspan font-size="4.4" dy="1.2">r</tspan><tspan dy="-1.2">-200%</tspan></text>
<text x="252.3" y="528.0" font-size="6.1" fill="#111" font-weight="bold" textLength="28.2" lengthAdjust="spacingAndGlyphs">RSF/PAM</text>
<text x="304.0" y="528.4" font-size="6.35" fill="#111" font-weight="bold" textLength="42.0" lengthAdjust="spacingAndGlyphs">SMF/RSF/PAM</text>
<path d="M274,454.904 L253.92,454.904 L253.92,453.0 L249.5,456.4 L253.92,459.79999999999995 L253.92,457.89599999999996 L274,457.89599999999996 Z" fill="#fff" stroke="#666" stroke-width="0.8" stroke-linejoin="miter"/>
<path d="M311,454.904 L331.58,454.904 L331.58,453.0 L336,456.4 L331.58,459.79999999999995 L331.58,457.89599999999996 L311,457.89599999999996 Z" fill="#fff" stroke="#666" stroke-width="0.8" stroke-linejoin="miter"/>
<rect x="277.7" y="454" width="30.8" height="4.8" rx="2.4" fill="#e2793f" stroke="#b5582a" stroke-width="0.4"/>
<text x="310.3" y="450.4" font-size="7.75" fill="#111" font-weight="bold" textLength="26.7" lengthAdjust="spacingAndGlyphs">Stretch</text>
<text x="370.0" y="445.7" font-size="12" fill="#111" font-weight="bold">f</text>
<rect x="401.3" y="435.6" width="127.70" height="94.30" fill="none" stroke="#4a4a4a" stroke-width="1.3"/>
<line x1="399.0" y1="529.90" x2="401.0" y2="529.90" stroke="#4a4a4a" stroke-width="0.8"/>
<line x1="399.0" y1="508.52" x2="401.0" y2="508.52" stroke="#4a4a4a" stroke-width="0.8"/>
<line x1="399.0" y1="487.15" x2="401.0" y2="487.15" stroke="#4a4a4a" stroke-width="0.8"/>
<line x1="399.0" y1="465.77" x2="401.0" y2="465.77" stroke="#4a4a4a" stroke-width="0.8"/>
<line x1="399.0" y1="444.40" x2="401.0" y2="444.40" stroke="#4a4a4a" stroke-width="0.8"/>
<line x1="399.8" y1="519.21" x2="401.0" y2="519.21" stroke="#4a4a4a" stroke-width="0.7"/>
<line x1="399.8" y1="497.84" x2="401.0" y2="497.84" stroke="#4a4a4a" stroke-width="0.7"/>
<line x1="399.8" y1="476.46" x2="401.0" y2="476.46" stroke="#4a4a4a" stroke-width="0.7"/>
<line x1="399.8" y1="455.09" x2="401.0" y2="455.09" stroke="#4a4a4a" stroke-width="0.7"/>
<text x="398.8" y="532.6" font-size="8.4" fill="#111" font-weight="bold" text-anchor="end">0</text>
<text x="398.8" y="511.2" font-size="8.4" fill="#111" font-weight="bold" text-anchor="end">50</text>
<text x="398.8" y="489.8" font-size="8.4" fill="#111" font-weight="bold" text-anchor="end">100</text>
<text x="398.8" y="468.5" font-size="8.4" fill="#111" font-weight="bold" text-anchor="end">150</text>
<text x="398.8" y="447.1" font-size="8.4" fill="#111" font-weight="bold" text-anchor="end">200</text>
<line x1="401.00" y1="529.9" x2="401.00" y2="531.9" stroke="#4a4a4a" stroke-width="0.8"/>
<line x1="430.12" y1="529.9" x2="430.12" y2="531.9" stroke="#4a4a4a" stroke-width="0.8"/>
<line x1="459.25" y1="529.9" x2="459.25" y2="531.9" stroke="#4a4a4a" stroke-width="0.8"/>
<line x1="488.38" y1="529.9" x2="488.38" y2="531.9" stroke="#4a4a4a" stroke-width="0.8"/>
<line x1="517.50" y1="529.9" x2="517.50" y2="531.9" stroke="#4a4a4a" stroke-width="0.8"/>
<line x1="415.56" y1="529.9" x2="415.56" y2="531.1" stroke="#4a4a4a" stroke-width="0.7"/>
<line x1="444.69" y1="529.9" x2="444.69" y2="531.1" stroke="#4a4a4a" stroke-width="0.7"/>
<line x1="473.81" y1="529.9" x2="473.81" y2="531.1" stroke="#4a4a4a" stroke-width="0.7"/>
<line x1="502.94" y1="529.9" x2="502.94" y2="531.1" stroke="#4a4a4a" stroke-width="0.7"/>
<text x="401.0" y="539.0" font-size="8.4" fill="#111" font-weight="bold" text-anchor="middle">0</text>
<text x="430.1" y="539.0" font-size="8.4" fill="#111" font-weight="bold" text-anchor="middle">50</text>
<text x="459.2" y="539.0" font-size="8.4" fill="#111" font-weight="bold" text-anchor="middle">100</text>
<text x="488.4" y="539.0" font-size="8.4" fill="#111" font-weight="bold" text-anchor="middle">150</text>
<text x="517.5" y="539.0" font-size="8.4" fill="#111" font-weight="bold" text-anchor="middle">200</text>
<text x="432.6" y="547.5" font-size="9.1" fill="#111" font-weight="bold" textLength="68.6" lengthAdjust="spacingAndGlyphs">Tensile strain (%)</text>
<text transform="translate(377.8,489.0) rotate(-90)" x="0" y="0" font-size="9.5" font-weight="bold" fill="#111" text-anchor="middle" dominant-baseline="central">&#916;R/R<tspan font-size="6.5" dy="2">0</tspan><tspan dy="-2"> (%)</tspan></text>
<polyline points="401.00,529.90 406.82,527.76 412.65,524.34 418.48,523.06 424.30,521.35 430.12,518.78 435.95,514.51 441.77,514.08 447.60,510.66 453.43,508.95 459.25,505.10 465.07,499.12 470.90,497.41 476.73,491.42 482.55,485.01 488.38,480.31 494.20,475.18 500.02,471.33 505.85,464.49 511.68,461.50 517.50,449.53" fill="none" stroke="#22bcc4" stroke-width="1.25" stroke-linejoin="round"/>
<circle cx="406.82" cy="527.76" r="1.35" fill="#22bcc4"/>
<circle cx="412.65" cy="524.34" r="1.35" fill="#22bcc4"/>
<circle cx="418.48" cy="523.06" r="1.35" fill="#22bcc4"/>
<circle cx="424.30" cy="521.35" r="1.35" fill="#22bcc4"/>
<circle cx="430.12" cy="518.78" r="1.35" fill="#22bcc4"/>
<circle cx="435.95" cy="514.51" r="1.35" fill="#22bcc4"/>
<circle cx="441.77" cy="514.08" r="1.35" fill="#22bcc4"/>
<circle cx="447.60" cy="510.66" r="1.35" fill="#22bcc4"/>
<circle cx="453.43" cy="508.95" r="1.35" fill="#22bcc4"/>
<circle cx="459.25" cy="505.10" r="1.35" fill="#22bcc4"/>
<circle cx="465.07" cy="499.12" r="1.35" fill="#22bcc4"/>
<circle cx="470.90" cy="497.41" r="1.35" fill="#22bcc4"/>
<circle cx="476.73" cy="491.42" r="1.35" fill="#22bcc4"/>
<circle cx="482.55" cy="485.01" r="1.35" fill="#22bcc4"/>
<circle cx="488.38" cy="480.31" r="1.35" fill="#22bcc4"/>
<circle cx="494.20" cy="475.18" r="1.35" fill="#22bcc4"/>
<circle cx="500.02" cy="471.33" r="1.35" fill="#22bcc4"/>
<circle cx="505.85" cy="464.49" r="1.35" fill="#22bcc4"/>
<circle cx="511.68" cy="461.50" r="1.35" fill="#22bcc4"/>
<circle cx="517.50" cy="449.53" r="1.35" fill="#22bcc4"/>
<polyline points="401.00,529.90 406.82,528.62 412.65,526.91 418.48,525.62 424.30,524.34 430.12,522.63 435.95,520.92 441.77,519.21 447.60,517.07 453.43,515.79 459.25,511.94 465.07,510.66 470.90,508.52 476.73,506.81 482.55,504.68 488.38,501.26 494.20,499.55 500.02,496.13 505.85,488.86 511.68,486.72 517.50,478.60" fill="none" stroke="#2a7ae2" stroke-width="1.25" stroke-linejoin="round"/>
<circle cx="406.82" cy="528.62" r="1.35" fill="#2a7ae2"/>
<circle cx="412.65" cy="526.91" r="1.35" fill="#2a7ae2"/>
<circle cx="418.48" cy="525.62" r="1.35" fill="#2a7ae2"/>
<circle cx="424.30" cy="524.34" r="1.35" fill="#2a7ae2"/>
<circle cx="430.12" cy="522.63" r="1.35" fill="#2a7ae2"/>
<circle cx="435.95" cy="520.92" r="1.35" fill="#2a7ae2"/>
<circle cx="441.77" cy="519.21" r="1.35" fill="#2a7ae2"/>
<circle cx="447.60" cy="517.07" r="1.35" fill="#2a7ae2"/>
<circle cx="453.43" cy="515.79" r="1.35" fill="#2a7ae2"/>
<circle cx="459.25" cy="511.94" r="1.35" fill="#2a7ae2"/>
<circle cx="465.07" cy="510.66" r="1.35" fill="#2a7ae2"/>
<circle cx="470.90" cy="508.52" r="1.35" fill="#2a7ae2"/>
<circle cx="476.73" cy="506.81" r="1.35" fill="#2a7ae2"/>
<circle cx="482.55" cy="504.68" r="1.35" fill="#2a7ae2"/>
<circle cx="488.38" cy="501.26" r="1.35" fill="#2a7ae2"/>
<circle cx="494.20" cy="499.55" r="1.35" fill="#2a7ae2"/>
<circle cx="500.02" cy="496.13" r="1.35" fill="#2a7ae2"/>
<circle cx="505.85" cy="488.86" r="1.35" fill="#2a7ae2"/>
<circle cx="511.68" cy="486.72" r="1.35" fill="#2a7ae2"/>
<circle cx="517.50" cy="478.60" r="1.35" fill="#2a7ae2"/>
<line x1="409" y1="445.8" x2="419.5" y2="445.8" stroke="#2a7ae2" stroke-width="1.25"/><circle cx="414.2" cy="445.8" r="1.35" fill="#2a7ae2"/>
<line x1="409" y1="453.2" x2="419.5" y2="453.2" stroke="#22bcc4" stroke-width="1.25"/><circle cx="414.2" cy="453.2" r="1.35" fill="#22bcc4"/>
<text x="420.8" y="448.0" font-size="6.0" fill="#111" font-weight="bold" textLength="25.0" lengthAdjust="spacingAndGlyphs">RSF/PAM</text>
<text x="420.8" y="455.4" font-size="6.0" fill="#111" font-weight="bold" textLength="39.2" lengthAdjust="spacingAndGlyphs">SMF/RSF/PAM</text>
<text x="32.0" y="557.5" font-size="12" fill="#111" font-weight="bold">g</text>
<rect x="61.4" y="557.0" width="126.60" height="92.60" fill="none" stroke="#4a4a4a" stroke-width="1.3"/>
<line x1="59.4" y1="650.00" x2="61.4" y2="650.00" stroke="#4a4a4a" stroke-width="0.8"/>
<line x1="59.4" y1="631.40" x2="61.4" y2="631.40" stroke="#4a4a4a" stroke-width="0.8"/>
<line x1="59.4" y1="612.80" x2="61.4" y2="612.80" stroke="#4a4a4a" stroke-width="0.8"/>
<line x1="59.4" y1="594.20" x2="61.4" y2="594.20" stroke="#4a4a4a" stroke-width="0.8"/>
<line x1="59.4" y1="575.60" x2="61.4" y2="575.60" stroke="#4a4a4a" stroke-width="0.8"/>
<line x1="59.4" y1="557.00" x2="61.4" y2="557.00" stroke="#4a4a4a" stroke-width="0.8"/>
<line x1="60.199999999999996" y1="640.70" x2="61.4" y2="640.70" stroke="#4a4a4a" stroke-width="0.7"/>
<line x1="60.199999999999996" y1="622.10" x2="61.4" y2="622.10" stroke="#4a4a4a" stroke-width="0.7"/>
<line x1="60.199999999999996" y1="603.50" x2="61.4" y2="603.50" stroke="#4a4a4a" stroke-width="0.7"/>
<line x1="60.199999999999996" y1="584.90" x2="61.4" y2="584.90" stroke="#4a4a4a" stroke-width="0.7"/>
<line x1="60.199999999999996" y1="566.30" x2="61.4" y2="566.30" stroke="#4a4a4a" stroke-width="0.7"/>
<text x="58.6" y="652.7" font-size="8.4" fill="#111" font-weight="bold" text-anchor="end">0.0</text>
<text x="58.6" y="634.1" font-size="8.4" fill="#111" font-weight="bold" text-anchor="end">0.2</text>
<text x="58.6" y="615.5" font-size="8.4" fill="#111" font-weight="bold" text-anchor="end">0.4</text>
<text x="58.6" y="596.9" font-size="8.4" fill="#111" font-weight="bold" text-anchor="end">0.6</text>
<text x="58.6" y="578.3" font-size="8.4" fill="#111" font-weight="bold" text-anchor="end">0.8</text>
<text x="58.6" y="559.7" font-size="8.4" fill="#111" font-weight="bold" text-anchor="end">1.0</text>
<line x1="61.50" y1="649.6" x2="61.50" y2="651.6" stroke="#4a4a4a" stroke-width="0.8"/>
<line x1="89.60" y1="649.6" x2="89.60" y2="651.6" stroke="#4a4a4a" stroke-width="0.8"/>
<line x1="117.70" y1="649.6" x2="117.70" y2="651.6" stroke="#4a4a4a" stroke-width="0.8"/>
<line x1="145.80" y1="649.6" x2="145.80" y2="651.6" stroke="#4a4a4a" stroke-width="0.8"/>
<line x1="173.90" y1="649.6" x2="173.90" y2="651.6" stroke="#4a4a4a" stroke-width="0.8"/>
<line x1="75.55" y1="649.6" x2="75.55" y2="650.8000000000001" stroke="#4a4a4a" stroke-width="0.7"/>
<line x1="103.65" y1="649.6" x2="103.65" y2="650.8000000000001" stroke="#4a4a4a" stroke-width="0.7"/>
<line x1="131.75" y1="649.6" x2="131.75" y2="650.8000000000001" stroke="#4a4a4a" stroke-width="0.7"/>
<line x1="159.85" y1="649.6" x2="159.85" y2="650.8000000000001" stroke="#4a4a4a" stroke-width="0.7"/>
<text x="61.5" y="659.2" font-size="8.4" fill="#111" font-weight="bold" text-anchor="middle">0</text>
<text x="89.6" y="659.2" font-size="8.4" fill="#111" font-weight="bold" text-anchor="middle">50</text>
<text x="117.7" y="659.2" font-size="8.4" fill="#111" font-weight="bold" text-anchor="middle">100</text>
<text x="145.8" y="659.2" font-size="8.4" fill="#111" font-weight="bold" text-anchor="middle">150</text>
<text x="173.9" y="659.2" font-size="8.4" fill="#111" font-weight="bold" text-anchor="middle">200</text>
<text x="88.6" y="667.6" font-size="9.1" fill="#111" font-weight="bold" textLength="68.6" lengthAdjust="spacingAndGlyphs">Tensile strain (%)</text>
<text transform="translate(40.9,603.6) rotate(-90)" x="0" y="0" font-size="8.8" font-weight="bold" fill="#111" text-anchor="middle" dominant-baseline="central" textLength="49.0" lengthAdjust="spacingAndGlyphs">Gauge factor</text>
<polyline points="61.50,650.00 67.12,606.29 72.74,592.34 78.36,599.78 83.98,603.50 89.60,601.64 95.22,593.27 100.84,599.78 106.46,597.92 112.08,599.32 117.70,595.13 123.32,589.09 128.94,590.48 134.56,584.90 140.18,579.78 145.80,577.92 151.42,575.60 157.04,575.13 162.66,570.02 168.28,571.41 173.90,562.58" fill="none" stroke="#22bcc4" stroke-width="1.25" stroke-linejoin="round"/>
<circle cx="67.12" cy="606.29" r="1.35" fill="#22bcc4"/>
<circle cx="72.74" cy="592.34" r="1.35" fill="#22bcc4"/>
<circle cx="78.36" cy="599.78" r="1.35" fill="#22bcc4"/>
<circle cx="83.98" cy="603.50" r="1.35" fill="#22bcc4"/>
<circle cx="89.60" cy="601.64" r="1.35" fill="#22bcc4"/>
<circle cx="95.22" cy="593.27" r="1.35" fill="#22bcc4"/>
<circle cx="100.84" cy="599.78" r="1.35" fill="#22bcc4"/>
<circle cx="106.46" cy="597.92" r="1.35" fill="#22bcc4"/>
<circle cx="112.08" cy="599.32" r="1.35" fill="#22bcc4"/>
<circle cx="117.70" cy="595.13" r="1.35" fill="#22bcc4"/>
<circle cx="123.32" cy="589.09" r="1.35" fill="#22bcc4"/>
<circle cx="128.94" cy="590.48" r="1.35" fill="#22bcc4"/>
<circle cx="134.56" cy="584.90" r="1.35" fill="#22bcc4"/>
<circle cx="140.18" cy="579.78" r="1.35" fill="#22bcc4"/>
<circle cx="145.80" cy="577.92" r="1.35" fill="#22bcc4"/>
<circle cx="151.42" cy="575.60" r="1.35" fill="#22bcc4"/>
<circle cx="157.04" cy="575.13" r="1.35" fill="#22bcc4"/>
<circle cx="162.66" cy="570.02" r="1.35" fill="#22bcc4"/>
<circle cx="168.28" cy="571.41" r="1.35" fill="#22bcc4"/>
<circle cx="173.90" cy="562.58" r="1.35" fill="#22bcc4"/>
<polyline points="61.50,650.00 67.12,625.36 72.74,623.03 78.36,620.24 83.98,618.85 89.60,619.31 95.22,616.99 100.84,616.52 106.46,615.12 112.08,615.59 117.70,611.40 123.32,611.87 128.94,610.94 134.56,610.94 140.18,610.48 145.80,608.15 151.42,608.15 157.04,606.75 162.66,600.25 168.28,600.25 173.90,594.20" fill="none" stroke="#2a7ae2" stroke-width="1.25" stroke-linejoin="round"/>
<circle cx="67.12" cy="625.36" r="1.35" fill="#2a7ae2"/>
<circle cx="72.74" cy="623.03" r="1.35" fill="#2a7ae2"/>
<circle cx="78.36" cy="620.24" r="1.35" fill="#2a7ae2"/>
<circle cx="83.98" cy="618.85" r="1.35" fill="#2a7ae2"/>
<circle cx="89.60" cy="619.31" r="1.35" fill="#2a7ae2"/>
<circle cx="95.22" cy="616.99" r="1.35" fill="#2a7ae2"/>
<circle cx="100.84" cy="616.52" r="1.35" fill="#2a7ae2"/>
<circle cx="106.46" cy="615.12" r="1.35" fill="#2a7ae2"/>
<circle cx="112.08" cy="615.59" r="1.35" fill="#2a7ae2"/>
<circle cx="117.70" cy="611.40" r="1.35" fill="#2a7ae2"/>
<circle cx="123.32" cy="611.87" r="1.35" fill="#2a7ae2"/>
<circle cx="128.94" cy="610.94" r="1.35" fill="#2a7ae2"/>
<circle cx="134.56" cy="610.94" r="1.35" fill="#2a7ae2"/>
<circle cx="140.18" cy="610.48" r="1.35" fill="#2a7ae2"/>
<circle cx="145.80" cy="608.15" r="1.35" fill="#2a7ae2"/>
<circle cx="151.42" cy="608.15" r="1.35" fill="#2a7ae2"/>
<circle cx="157.04" cy="606.75" r="1.35" fill="#2a7ae2"/>
<circle cx="162.66" cy="600.25" r="1.35" fill="#2a7ae2"/>
<circle cx="168.28" cy="600.25" r="1.35" fill="#2a7ae2"/>
<circle cx="173.90" cy="594.20" r="1.35" fill="#2a7ae2"/>
<line x1="67" y1="564" x2="77.3" y2="564" stroke="#2a7ae2" stroke-width="1.25"/><circle cx="72.1" cy="564" r="1.35" fill="#2a7ae2"/>
<line x1="67" y1="572" x2="77.3" y2="572" stroke="#22bcc4" stroke-width="1.25"/><circle cx="72.1" cy="572" r="1.35" fill="#22bcc4"/>
<text x="78.3" y="566.2" font-size="6.0" fill="#111" font-weight="bold" textLength="25.3" lengthAdjust="spacingAndGlyphs">RSF/PAM</text>
<text x="78.3" y="574.2" font-size="6.0" fill="#111" font-weight="bold" textLength="39.4" lengthAdjust="spacingAndGlyphs">SMF/RSF/PAM</text>
<text x="202.5" y="560.5" font-size="12" fill="#111" font-weight="bold">h</text>
<rect x="231.3" y="556.6" width="127.90" height="94.00" fill="none" stroke="#4a4a4a" stroke-width="1.3"/>
<line x1="229.3" y1="644.50" x2="231.3" y2="644.50" stroke="#4a4a4a" stroke-width="0.8"/>
<line x1="229.3" y1="622.70" x2="231.3" y2="622.70" stroke="#4a4a4a" stroke-width="0.8"/>
<line x1="229.3" y1="600.90" x2="231.3" y2="600.90" stroke="#4a4a4a" stroke-width="0.8"/>
<line x1="229.3" y1="579.10" x2="231.3" y2="579.10" stroke="#4a4a4a" stroke-width="0.8"/>
<line x1="229.3" y1="557.30" x2="231.3" y2="557.30" stroke="#4a4a4a" stroke-width="0.8"/>
<line x1="230.10000000000002" y1="633.60" x2="231.3" y2="633.60" stroke="#4a4a4a" stroke-width="0.7"/>
<line x1="230.10000000000002" y1="611.80" x2="231.3" y2="611.80" stroke="#4a4a4a" stroke-width="0.7"/>
<line x1="230.10000000000002" y1="590.00" x2="231.3" y2="590.00" stroke="#4a4a4a" stroke-width="0.7"/>
<line x1="230.10000000000002" y1="568.20" x2="231.3" y2="568.20" stroke="#4a4a4a" stroke-width="0.7"/>
<text x="228.6" y="647.2" font-size="8.4" fill="#111" font-weight="bold" text-anchor="end">0</text>
<text x="228.6" y="625.4" font-size="8.4" fill="#111" font-weight="bold" text-anchor="end">20</text>
<text x="228.6" y="603.6" font-size="8.4" fill="#111" font-weight="bold" text-anchor="end">40</text>
<text x="228.6" y="581.8" font-size="8.4" fill="#111" font-weight="bold" text-anchor="end">60</text>
<text x="228.6" y="560.0" font-size="8.4" fill="#111" font-weight="bold" text-anchor="end">80</text>
<line x1="231.50" y1="650.6" x2="231.50" y2="652.6" stroke="#4a4a4a" stroke-width="0.8"/>
<line x1="262.50" y1="650.6" x2="262.50" y2="652.6" stroke="#4a4a4a" stroke-width="0.8"/>
<line x1="293.50" y1="650.6" x2="293.50" y2="652.6" stroke="#4a4a4a" stroke-width="0.8"/>
<line x1="324.50" y1="650.6" x2="324.50" y2="652.6" stroke="#4a4a4a" stroke-width="0.8"/>
<line x1="355.50" y1="650.6" x2="355.50" y2="652.6" stroke="#4a4a4a" stroke-width="0.8"/>
<line x1="247.00" y1="650.6" x2="247.00" y2="651.8000000000001" stroke="#4a4a4a" stroke-width="0.7"/>
<line x1="278.00" y1="650.6" x2="278.00" y2="651.8000000000001" stroke="#4a4a4a" stroke-width="0.7"/>
<line x1="309.00" y1="650.6" x2="309.00" y2="651.8000000000001" stroke="#4a4a4a" stroke-width="0.7"/>
<line x1="340.00" y1="650.6" x2="340.00" y2="651.8000000000001" stroke="#4a4a4a" stroke-width="0.7"/>
<text x="231.5" y="660.4" font-size="8.4" fill="#111" font-weight="bold" text-anchor="middle">0</text>
<text x="262.5" y="660.4" font-size="8.4" fill="#111" font-weight="bold" text-anchor="middle">40</text>
<text x="293.5" y="660.4" font-size="8.4" fill="#111" font-weight="bold" text-anchor="middle">80</text>
<text x="324.5" y="660.4" font-size="8.4" fill="#111" font-weight="bold" text-anchor="middle">120</text>
<text x="355.5" y="660.4" font-size="8.4" fill="#111" font-weight="bold" text-anchor="middle">160</text>
<text x="273.8" y="669.4" font-size="10.0" fill="#111" font-weight="bold" textLength="35.8" lengthAdjust="spacingAndGlyphs">Time (s)</text>
<text transform="translate(211.6,603.4) rotate(-90)" x="0" y="0" font-size="9.5" font-weight="bold" fill="#111" text-anchor="middle" dominant-baseline="central">&#916;R/R<tspan font-size="6.5" dy="2">0</tspan><tspan dy="-2"> (%)</tspan></text>
<polyline points="231.50,642.19 232.04,641.32 232.59,641.82 233.13,641.15 233.67,641.09 234.21,642.68 234.75,642.83 235.30,640.49 235.84,642.13 236.38,642.20 236.93,640.04 237.47,641.53 238.01,640.49 238.55,641.52 239.09,641.05 239.41,641.45 239.64,617.25 240.03,614.12 240.65,613.72 241.26,613.48 241.88,613.62 242.50,613.39 243.12,613.35 243.75,613.72 244.37,613.27 244.99,613.38 245.61,613.56 246.22,613.74 246.84,613.20 247.23,613.43 247.62,643.96 247.70,644.03 248.24,643.33 248.78,642.88 249.32,643.35 249.87,642.76 250.41,644.25 250.95,643.10 251.50,644.11 252.04,642.72 252.58,642.88 253.12,645.10 253.66,644.99 254.21,644.76 254.59,643.96 254.83,623.79 255.22,619.62 255.84,619.37 256.45,618.64 257.07,618.26 257.69,617.53 258.31,617.01 258.94,616.69 259.56,616.54 260.18,616.54 260.79,616.33 261.41,616.48 262.03,616.32 262.65,616.36 262.73,616.60 263.12,645.04 263.20,643.65 263.74,644.56 264.28,646.00 264.82,644.02 265.37,643.73 265.91,643.90 266.45,644.85 267.00,644.44 267.54,645.86 268.08,644.11 268.62,644.84 269.17,645.65 269.71,646.28 270.25,644.04 270.72,645.04 270.95,619.43 271.33,615.75 271.95,616.26 272.57,615.71 273.19,615.88 273.81,615.96 274.44,615.78 275.06,615.44 275.67,615.37 276.29,615.91 276.91,615.54 277.53,615.91 278.15,615.47 278.62,615.62 279.01,640.68 279.08,641.16 279.63,639.61 280.17,639.32 280.71,640.67 281.25,639.27 281.80,641.22 282.34,641.88 282.88,640.40 283.43,642.01 283.97,641.54 284.51,640.95 285.05,640.37 285.60,641.66 286.14,640.68 286.37,618.34 286.76,615.28 287.38,614.66 288.00,614.93 288.62,614.42 289.24,614.38 289.86,614.63 290.48,614.55 291.10,614.51 291.72,614.43 292.34,614.46 292.96,614.49 293.58,614.45 293.96,614.52 294.35,641.23 294.43,639.98 294.97,641.21 295.51,641.43 296.06,640.61 296.60,641.97 297.14,641.79 297.69,639.88 298.23,641.17 298.77,641.09 299.31,642.61 299.86,641.47 300.40,641.00 300.94,642.59 301.17,641.23 301.40,616.71 301.79,613.10 302.41,612.83 303.03,612.95 303.65,612.32 304.27,612.16 304.89,611.76 305.51,611.90 306.13,611.66 306.75,611.64 307.37,612.11 307.99,612.09 308.61,611.68 309.00,611.80 309.39,641.77 309.47,640.46 310.01,642.48 310.55,641.90 311.09,641.51 311.63,642.29 312.18,642.16 312.72,642.31 313.26,642.15 313.81,641.50 314.35,642.34 314.89,642.12 315.43,641.00 315.98,643.12 316.52,641.58 317.06,641.11 317.14,641.77 317.37,616.16 317.76,612.76 318.38,612.55 319.00,611.91 319.62,612.02 320.24,611.80 320.86,611.38 321.48,611.13 322.10,611.52 322.72,611.37 323.34,611.36 323.96,611.04 324.58,611.30 324.97,611.25 325.35,641.23 325.43,640.22 325.97,642.17 326.51,641.69 327.06,640.80 327.60,640.14 328.14,641.37 328.69,642.01 329.23,642.30 329.77,641.15 330.31,642.11 330.86,640.36 331.40,640.27 331.94,642.13 332.48,641.86 333.02,640.36 333.18,641.23 333.41,615.07 333.80,611.45 334.42,611.08 335.04,611.12 335.66,611.00 336.28,610.63 336.90,610.04 337.52,610.31 338.14,610.27 338.76,610.22 339.38,610.22 340.00,610.22 340.62,609.89 340.93,610.16 341.32,641.77 341.39,642.75 341.94,643.18 342.48,640.52 343.02,640.70 343.56,640.40 344.11,641.96 344.65,640.50 345.19,640.56 345.73,642.56 346.28,641.08 346.82,640.82 347.36,641.31 347.90,641.72 348.45,642.37 348.99,642.23 349.07,641.77 349.30,614.52 349.69,611.28 350.31,611.23 350.93,610.73 351.55,610.78 352.17,610.28 352.79,610.63 353.41,609.91 354.03,610.04 354.65,609.89 355.27,609.91 355.89,609.90 356.51,610.11 357.13,610.48 357.75,610.00 357.82,610.16 358.21,641.23 358.60,637.96" fill="none" stroke="#e8242c" stroke-width="1.35" stroke-linejoin="round"/>
<rect x="234.33" y="628.80" width="1.15" height="1.15" fill="#666"/><rect x="234.33" y="630.80" width="1.15" height="6.20" fill="#666"/><rect x="233.64" y="636.40" width="2.53" height="0.6" fill="#666"/>
<rect x="241.33" y="602.60" width="1.15" height="1.15" fill="#555"/><rect x="241.33" y="604.60" width="1.15" height="5.60" fill="#555"/><rect x="240.64" y="609.60" width="2.53" height="0.6" fill="#555"/><rect x="244.12" y="602.60" width="1.15" height="1.15" fill="#555"/><rect x="244.12" y="604.60" width="1.15" height="5.60" fill="#555"/><rect x="243.44" y="609.60" width="2.53" height="0.6" fill="#555"/>
<g transform="translate(241,571) scale(1.0)"><path d="M0,5 Q2,3 8,3 L22,2.5 Q22,0 30,0 L40,1 Q43,2 42,10 L42,17 Q41,20 36,20 L24,20 Q20,19 19,14 L19,9 L6,8.5 Q0,8 0,5 Z" fill="#f6c7a8"/><path d="M19,9 L22,2.5" stroke="#eaa886" stroke-width="0.6" fill="none"/><path d="M11,2.8 Q15,1.4 20,2.6" stroke="#d9a21a" stroke-width="1.6" fill="none" stroke-linecap="round"/></g>
<g transform="translate(305,570.5) scale(1.0)"><path d="M6,2 L26,0 Q33,0 33,6 L33,18 Q32,23 26,23 L10,23 Q6,22 6,17 Q1,16 0.5,10 Q0,4 6,2 Z" fill="#f6c7a8"/><path d="M1.5,7 Q2,1.5 7,1.5" stroke="#d9a21a" stroke-width="1.8" fill="none" stroke-linecap="round"/><path d="M6,17 Q8,12 7,8" stroke="#eaa886" stroke-width="0.6" fill="none"/></g>
<rect x="276.73" y="576.60" width="1.15" height="7.80" fill="#5a5a5a"/><rect x="276.04" y="576.60" width="2.53" height="0.6" fill="#5a5a5a"/><rect x="276.04" y="583.80" width="2.53" height="0.6" fill="#5a5a5a"/>
<rect x="329.95" y="576.60" width="1.3" height="9.20" fill="#5a5a5a"/><rect x="329.17" y="576.60" width="2.86" height="0.6" fill="#5a5a5a"/><rect x="329.17" y="585.20" width="2.86" height="0.6" fill="#5a5a5a"/><rect x="333.45" y="576.60" width="1.3" height="9.20" fill="#5a5a5a"/><rect x="332.67" y="576.60" width="2.86" height="0.6" fill="#5a5a5a"/><rect x="332.67" y="585.20" width="2.86" height="0.6" fill="#5a5a5a"/>
<path d="M280,567.5 Q292,558.5 303,566.5" fill="none" stroke="#9a9a9a" stroke-width="1.7"/>
<path d="M306,569 L300.5,567.6 L304.6,563.6 Z" fill="#9a9a9a"/>
<path d="M307,592 Q295,600 283.5,594" fill="none" stroke="#9a9a9a" stroke-width="1.7"/>
<path d="M281,591.8 L286.8,592.2 L283.6,597 Z" fill="#9a9a9a"/>
<text x="375.8" y="558.6" font-size="12" fill="#111" font-weight="bold">i</text>
<rect x="399.2" y="557.1" width="131.30" height="95.90" fill="none" stroke="#4a4a4a" stroke-width="1.3"/>
<line x1="397.2" y1="647.40" x2="399.2" y2="647.40" stroke="#4a4a4a" stroke-width="0.8"/>
<line x1="397.2" y1="624.80" x2="399.2" y2="624.80" stroke="#4a4a4a" stroke-width="0.8"/>
<line x1="397.2" y1="602.20" x2="399.2" y2="602.20" stroke="#4a4a4a" stroke-width="0.8"/>
<line x1="397.2" y1="579.60" x2="399.2" y2="579.60" stroke="#4a4a4a" stroke-width="0.8"/>
<line x1="397.2" y1="557.00" x2="399.2" y2="557.00" stroke="#4a4a4a" stroke-width="0.8"/>
<line x1="398.0" y1="636.10" x2="399.2" y2="636.10" stroke="#4a4a4a" stroke-width="0.7"/>
<line x1="398.0" y1="613.50" x2="399.2" y2="613.50" stroke="#4a4a4a" stroke-width="0.7"/>
<line x1="398.0" y1="590.90" x2="399.2" y2="590.90" stroke="#4a4a4a" stroke-width="0.7"/>
<line x1="398.0" y1="568.30" x2="399.2" y2="568.30" stroke="#4a4a4a" stroke-width="0.7"/>
<text x="396.2" y="650.1" font-size="8.4" fill="#111" font-weight="bold" text-anchor="end">0</text>
<text x="396.2" y="627.5" font-size="8.4" fill="#111" font-weight="bold" text-anchor="end">20</text>
<text x="396.2" y="604.9" font-size="8.4" fill="#111" font-weight="bold" text-anchor="end">40</text>
<text x="396.2" y="582.3" font-size="8.4" fill="#111" font-weight="bold" text-anchor="end">60</text>
<text x="396.2" y="559.7" font-size="8.4" fill="#111" font-weight="bold" text-anchor="end">80</text>
<line x1="399.20" y1="653.0" x2="399.20" y2="655.0" stroke="#4a4a4a" stroke-width="0.8"/>
<line x1="421.02" y1="653.0" x2="421.02" y2="655.0" stroke="#4a4a4a" stroke-width="0.8"/>
<line x1="442.84" y1="653.0" x2="442.84" y2="655.0" stroke="#4a4a4a" stroke-width="0.8"/>
<line x1="464.66" y1="653.0" x2="464.66" y2="655.0" stroke="#4a4a4a" stroke-width="0.8"/>
<line x1="486.48" y1="653.0" x2="486.48" y2="655.0" stroke="#4a4a4a" stroke-width="0.8"/>
<line x1="508.30" y1="653.0" x2="508.30" y2="655.0" stroke="#4a4a4a" stroke-width="0.8"/>
<line x1="530.12" y1="653.0" x2="530.12" y2="655.0" stroke="#4a4a4a" stroke-width="0.8"/>
<line x1="410.11" y1="653.0" x2="410.11" y2="654.2" stroke="#4a4a4a" stroke-width="0.7"/>
<line x1="431.93" y1="653.0" x2="431.93" y2="654.2" stroke="#4a4a4a" stroke-width="0.7"/>
<line x1="453.75" y1="653.0" x2="453.75" y2="654.2" stroke="#4a4a4a" stroke-width="0.7"/>
<line x1="475.57" y1="653.0" x2="475.57" y2="654.2" stroke="#4a4a4a" stroke-width="0.7"/>
<line x1="497.39" y1="653.0" x2="497.39" y2="654.2" stroke="#4a4a4a" stroke-width="0.7"/>
<line x1="519.21" y1="653.0" x2="519.21" y2="654.2" stroke="#4a4a4a" stroke-width="0.7"/>
<text x="399.2" y="663.2" font-size="8.4" fill="#111" font-weight="bold" text-anchor="middle">0</text>
<text x="421.0" y="663.2" font-size="8.4" fill="#111" font-weight="bold" text-anchor="middle">40</text>
<text x="442.8" y="663.2" font-size="8.4" fill="#111" font-weight="bold" text-anchor="middle">80</text>
<text x="464.7" y="663.2" font-size="8.4" fill="#111" font-weight="bold" text-anchor="middle">120</text>
<text x="486.5" y="663.2" font-size="8.4" fill="#111" font-weight="bold" text-anchor="middle">160</text>
<text x="508.3" y="663.2" font-size="8.4" fill="#111" font-weight="bold" text-anchor="middle">200</text>
<text x="530.1" y="663.2" font-size="8.4" fill="#111" font-weight="bold" text-anchor="middle">240</text>
<text x="443.0" y="672.8" font-size="10.0" fill="#111" font-weight="bold" textLength="36.6" lengthAdjust="spacingAndGlyphs">Time (s)</text>
<text transform="translate(379.6,604.1) rotate(-90)" x="0" y="0" font-size="9.5" font-weight="bold" fill="#111" text-anchor="middle" dominant-baseline="central">&#916;R/R<tspan font-size="6.5" dy="2">0</tspan><tspan dy="-2"> (%)</tspan></text>
<polyline points="399.20,647.40 400.02,646.83 400.45,631.58 405.75,629.32 406.02,614.63 412.51,616.32 412.84,646.83 415.43,646.04 417.91,646.72 418.02,646.83 418.46,637.23 422.66,633.84 422.93,615.76 428.60,615.76 428.93,646.83 431.74,646.04 434.44,646.72 434.55,646.83 434.98,631.58 439.57,629.32 439.84,615.76 445.51,617.45 445.84,646.83 448.43,646.04 450.91,646.72 451.02,646.83 451.46,631.58 456.20,629.32 456.48,616.32 461.61,618.02 461.93,646.83 464.61,646.04 467.17,646.72 467.28,646.83 467.71,634.97 472.02,632.71 472.30,618.02 478.24,616.89 478.57,646.83 481.08,646.04 483.48,646.72 483.59,646.83 484.03,631.58 488.39,629.32 488.66,615.76 493.95,616.89 494.28,646.83 497.14,646.04 499.90,646.72 500.01,646.83 500.44,633.84 504.59,630.45 504.86,616.89 510.59,616.32 510.92,646.83 513.51,646.04 515.99,646.72 516.10,646.83 516.54,630.45 520.96,628.19 521.23,612.37 527.50,611.24 527.83,646.83 530.12,640.62" fill="none" stroke="#e8242c" stroke-width="1.35" stroke-linejoin="round"/>
<g transform="translate(411.3,585.0) scale(0.8)"><path d="M0,5 Q2,3 8,3 L22,2.5 Q22,0 30,0 L40,1 Q43,2 42,10 L42,17 Q41,20 36,20 L24,20 Q20,19 19,14 L19,9 L6,8.5 Q0,8 0,5 Z" fill="#f6c7a8"/><path d="M19,9 L22,2.5" stroke="#eaa886" stroke-width="0.6" fill="none"/><path d="M11,2.8 Q15,1.4 20,2.6" stroke="#d9a21a" stroke-width="1.6" fill="none" stroke-linecap="round"/></g>
<g transform="translate(448,569.5) scale(1.0)"><path d="M0,12 L9,2 Q12,0 16,0.5 L27,0 Q31,0 31,5 L31,12 Q30,15 26,15 L14,15 Q11,14 11,10 L3,15 Q0,15 0,12 Z" fill="#f6c7a8"/><path d="M4,3.5 Q6,0.5 10,0.8" stroke="#d9a21a" stroke-width="1.6" fill="none" stroke-linecap="round"/></g>
<g transform="translate(485.5,586.5) scale(0.82)"><path d="M6,2 L26,0 Q33,0 33,6 L33,18 Q32,23 26,23 L10,23 Q6,22 6,17 Q1,16 0.5,10 Q0,4 6,2 Z" fill="#f6c7a8"/><path d="M1.5,7 Q2,1.5 7,1.5" stroke="#d9a21a" stroke-width="1.8" fill="none" stroke-linecap="round"/><path d="M6,17 Q8,12 7,8" stroke="#eaa886" stroke-width="0.6" fill="none"/></g>
<rect x="438.43" y="590.40" width="1.15" height="7.30" fill="#5a5a5a"/><rect x="437.74" y="590.40" width="2.53" height="0.6" fill="#5a5a5a"/><rect x="437.74" y="597.10" width="2.53" height="0.6" fill="#5a5a5a"/>
<rect x="471.03" y="573.80" width="1.15" height="7.40" fill="#5a5a5a"/><rect x="470.34" y="573.80" width="2.53" height="0.6" fill="#5a5a5a"/><rect x="470.34" y="580.60" width="2.53" height="0.6" fill="#5a5a5a"/><rect x="474.32" y="573.80" width="1.15" height="7.40" fill="#5a5a5a"/><rect x="473.63" y="573.80" width="2.53" height="0.6" fill="#5a5a5a"/><rect x="473.63" y="580.60" width="2.53" height="0.6" fill="#5a5a5a"/>
<rect x="504.62" y="589.90" width="1.15" height="9.10" fill="#5a5a5a"/><rect x="503.94" y="589.90" width="2.53" height="0.6" fill="#5a5a5a"/><rect x="503.94" y="598.40" width="2.53" height="0.6" fill="#5a5a5a"/><rect x="507.53" y="589.90" width="1.15" height="9.10" fill="#5a5a5a"/><rect x="506.84" y="589.90" width="2.53" height="0.6" fill="#5a5a5a"/><rect x="506.84" y="598.40" width="2.53" height="0.6" fill="#5a5a5a"/><rect x="510.43" y="589.90" width="1.15" height="9.10" fill="#5a5a5a"/><rect x="509.74" y="589.90" width="2.53" height="0.6" fill="#5a5a5a"/><rect x="509.74" y="598.40" width="2.53" height="0.6" fill="#5a5a5a"/>
<rect x="422.43" y="607.60" width="1.15" height="1.15" fill="#555"/><rect x="422.43" y="609.60" width="1.15" height="4.60" fill="#555"/><rect x="421.74" y="613.60" width="2.53" height="0.6" fill="#555"/><rect x="425.82" y="607.60" width="1.15" height="1.15" fill="#555"/><rect x="425.82" y="609.60" width="1.15" height="4.60" fill="#555"/><rect x="425.13" y="613.60" width="2.53" height="0.6" fill="#555"/><rect x="429.23" y="607.60" width="1.15" height="1.15" fill="#555"/><rect x="429.23" y="609.60" width="1.15" height="4.60" fill="#555"/><rect x="428.54" y="613.60" width="2.53" height="0.6" fill="#555"/>
<rect x="416.73" y="625.80" width="1.15" height="1.15" fill="#555"/><rect x="416.73" y="627.80" width="1.15" height="5.60" fill="#555"/><rect x="416.04" y="632.80" width="2.53" height="0.6" fill="#555"/><rect x="419.82" y="625.80" width="1.15" height="1.15" fill="#555"/><rect x="419.82" y="627.80" width="1.15" height="5.60" fill="#555"/><rect x="419.13" y="632.80" width="2.53" height="0.6" fill="#555"/>
<rect x="414.93" y="640.00" width="1.15" height="1.15" fill="#555"/><rect x="414.93" y="642.00" width="1.15" height="5.00" fill="#555"/><rect x="414.24" y="646.40" width="2.53" height="0.6" fill="#555"/>
<path d="M427,582 Q433,572 444,571.5" fill="none" stroke="#9a9a9a" stroke-width="1.7"/>
<path d="M447.2,572 L442.2,569 L442.4,574.4 Z" fill="#9a9a9a"/>
<path d="M484.5,573.5 Q494,576 496.5,583" fill="none" stroke="#9a9a9a" stroke-width="1.7"/>
<path d="M497.5,587 L494,582.6 L499.4,582.4 Z" fill="#9a9a9a"/>
<path d="M485.5,598.5 Q470,609 452,601.5" fill="none" stroke="#9a9a9a" stroke-width="1.7"/>
<path d="M449,600 L454.6,599 L452.4,604.2 Z" fill="#9a9a9a"/>
</svg></body></html>
